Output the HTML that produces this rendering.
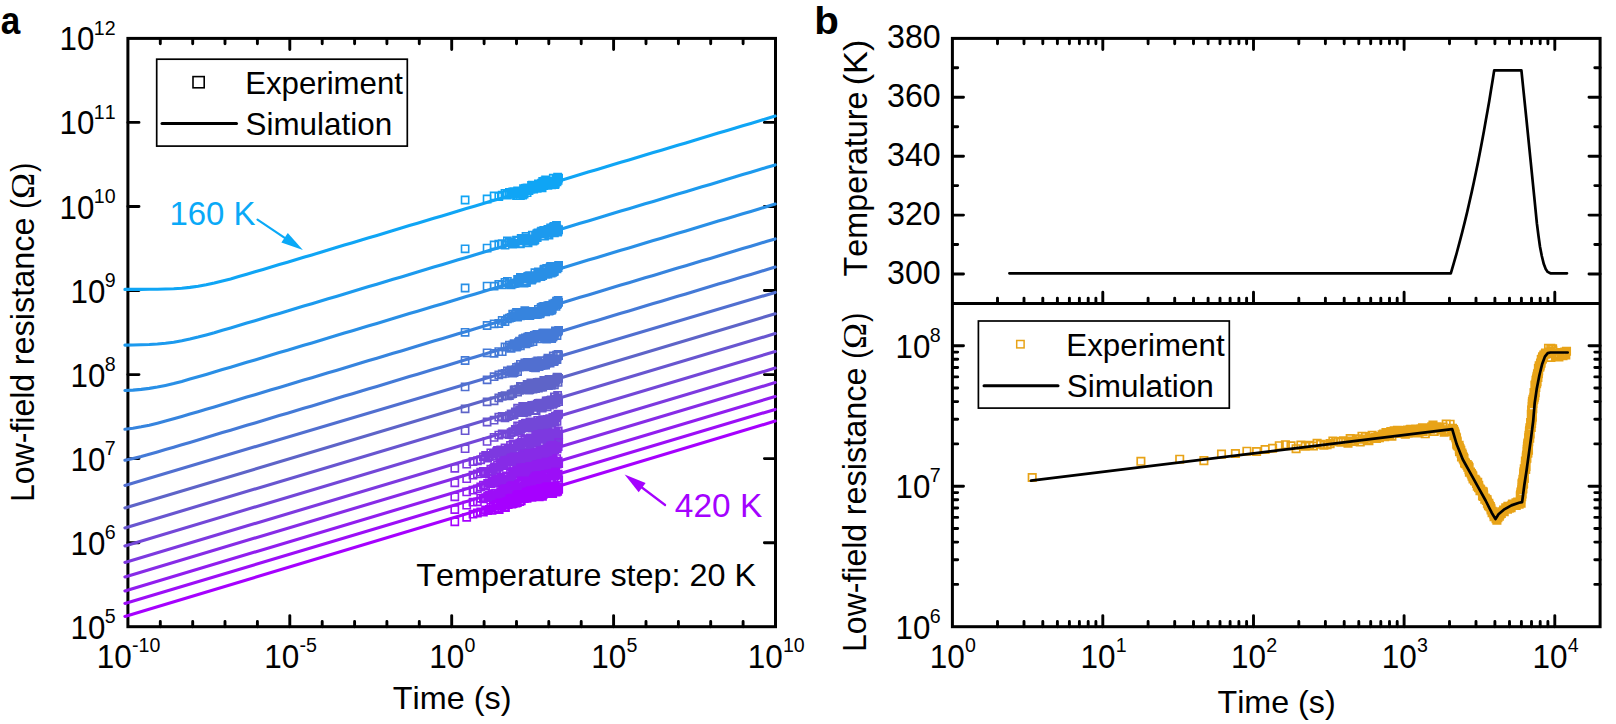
<!DOCTYPE html>
<html lang="en"><head><meta charset="utf-8"><title>Figure</title>
<style>html,body{margin:0;padding:0;background:#fff}svg{display:block}</style></head>
<body><svg width="1616" height="724" viewBox="0 0 1616 724">
<rect width="1616" height="724" fill="#fff"/>
<g id="panel-a">
<rect x="127.9" y="38.4" width="647.6" height="588.3" fill="none" stroke="#000" stroke-width="3"/>
<path d="M160.3 38.4v5.3M160.3 626.7v-5.3M192.7 38.4v5.3M192.7 626.7v-5.3M225 38.4v5.3M225 626.7v-5.3M257.4 38.4v5.3M257.4 626.7v-5.3M289.8 38.4v11.1M289.8 626.7v-11.1M322.2 38.4v5.3M322.2 626.7v-5.3M354.6 38.4v5.3M354.6 626.7v-5.3M386.9 38.4v5.3M386.9 626.7v-5.3M419.3 38.4v5.3M419.3 626.7v-5.3M451.7 38.4v11.1M451.7 626.7v-11.1M484.1 38.4v5.3M484.1 626.7v-5.3M516.5 38.4v5.3M516.5 626.7v-5.3M548.8 38.4v5.3M548.8 626.7v-5.3M581.2 38.4v5.3M581.2 626.7v-5.3M613.6 38.4v11.1M613.6 626.7v-11.1M646 38.4v5.3M646 626.7v-5.3M678.4 38.4v5.3M678.4 626.7v-5.3M710.7 38.4v5.3M710.7 626.7v-5.3M743.1 38.4v5.3M743.1 626.7v-5.3M127.9 542.7h11.1M775.5 542.7h-11.1M127.9 458.6h11.1M775.5 458.6h-11.1M127.9 374.6h11.1M775.5 374.6h-11.1M127.9 290.5h11.1M775.5 290.5h-11.1M127.9 206.5h11.1M775.5 206.5h-11.1M127.9 122.4h11.1M775.5 122.4h-11.1" stroke="#000" stroke-width="2.9" stroke-linecap="round" fill="none"/>
<g fill="none" stroke-width="3.1" stroke-linecap="round">
<path d="M124.9 289.4 L133 289.4 L141.2 289.4 L149.3 289.3 L157.4 289.2 L165.5 289 L173.7 288.7 L181.8 288.2 L189.9 287.4 L198.1 286.3 L206.2 284.8 L214.3 283 L222.4 281 L230.6 278.9 L238.7 276.6 L246.8 274.2 L255 271.8 L263.1 269.4 L271.2 267 L279.3 264.6 L287.5 262.2 L295.6 259.7 L303.7 257.3 L311.9 254.9 L320 252.4 L328.1 250 L336.2 247.6 L344.4 245.1 L352.5 242.7 L360.6 240.3 L368.8 237.8 L376.9 235.4 L385 232.9 L393.1 230.5 L401.3 228.1 L409.4 225.6 L417.5 223.2 L425.7 220.8 L433.8 218.3 L441.9 215.9 L450.1 213.5 L458.2 211 L466.3 208.6 L474.4 206.2 L482.6 203.7 L490.7 201.3 L498.8 198.9 L507 196.4 L515.1 194 L523.2 191.6 L531.3 189.1 L539.5 186.7 L547.6 184.3 L555.7 181.8 L563.9 179.4 L572 177 L580.1 174.5 L588.2 172.1 L596.4 169.7 L604.5 167.2 L612.6 164.8 L620.8 162.3 L628.9 159.9 L637 157.5 L645.1 155 L653.3 152.6 L661.4 150.2 L669.5 147.7 L677.7 145.3 L685.8 142.9 L693.9 140.4 L702 138 L710.2 135.6 L718.3 133.1 L726.4 130.7 L734.6 128.3 L742.7 125.8 L750.8 123.4 L758.9 121 L767.1 118.5 L775.2 116.1" stroke="#0fa5f5"/>
<path d="M124.9 345.1 L133 345 L141.2 344.8 L149.3 344.5 L157.4 344 L165.5 343.3 L173.7 342.2 L181.8 340.8 L189.9 339.1 L198.1 337.1 L206.2 334.9 L214.3 332.7 L222.4 330.3 L230.6 327.9 L238.7 325.5 L246.8 323.1 L255 320.7 L263.1 318.3 L271.2 315.8 L279.3 313.4 L287.5 311 L295.6 308.5 L303.7 306.1 L311.9 303.7 L320 301.2 L328.1 298.8 L336.2 296.4 L344.4 293.9 L352.5 291.5 L360.6 289.1 L368.8 286.6 L376.9 284.2 L385 281.7 L393.1 279.3 L401.3 276.9 L409.4 274.4 L417.5 272 L425.7 269.6 L433.8 267.1 L441.9 264.7 L450.1 262.3 L458.2 259.8 L466.3 257.4 L474.4 255 L482.6 252.5 L490.7 250.1 L498.8 247.7 L507 245.2 L515.1 242.8 L523.2 240.4 L531.3 237.9 L539.5 235.5 L547.6 233.1 L555.7 230.6 L563.9 228.2 L572 225.8 L580.1 223.3 L588.2 220.9 L596.4 218.5 L604.5 216 L612.6 213.6 L620.8 211.1 L628.9 208.7 L637 206.3 L645.1 203.8 L653.3 201.4 L661.4 199 L669.5 196.5 L677.7 194.1 L685.8 191.7 L693.9 189.2 L702 186.8 L710.2 184.4 L718.3 181.9 L726.4 179.5 L734.6 177.1 L742.7 174.6 L750.8 172.2 L758.9 169.8 L767.1 167.3 L775.2 164.9" stroke="#1c9aee"/>
<path d="M124.9 390.5 L133 390.1 L141.2 389.4 L149.3 388.4 L157.4 387.1 L165.5 385.4 L173.7 383.5 L181.8 381.4 L189.9 379.1 L198.1 376.8 L206.2 374.4 L214.3 372 L222.4 369.6 L230.6 367.2 L238.7 364.8 L246.8 362.3 L255 359.9 L263.1 357.5 L271.2 355 L279.3 352.6 L287.5 350.2 L295.6 347.7 L303.7 345.3 L311.9 342.9 L320 340.4 L328.1 338 L336.2 335.6 L344.4 333.1 L352.5 330.7 L360.6 328.3 L368.8 325.8 L376.9 323.4 L385 320.9 L393.1 318.5 L401.3 316.1 L409.4 313.6 L417.5 311.2 L425.7 308.8 L433.8 306.3 L441.9 303.9 L450.1 301.5 L458.2 299 L466.3 296.6 L474.4 294.2 L482.6 291.7 L490.7 289.3 L498.8 286.9 L507 284.4 L515.1 282 L523.2 279.6 L531.3 277.1 L539.5 274.7 L547.6 272.3 L555.7 269.8 L563.9 267.4 L572 265 L580.1 262.5 L588.2 260.1 L596.4 257.7 L604.5 255.2 L612.6 252.8 L620.8 250.3 L628.9 247.9 L637 245.5 L645.1 243 L653.3 240.6 L661.4 238.2 L669.5 235.7 L677.7 233.3 L685.8 230.9 L693.9 228.4 L702 226 L710.2 223.6 L718.3 221.1 L726.4 218.7 L734.6 216.3 L742.7 213.8 L750.8 211.4 L758.9 209 L767.1 206.5 L775.2 204.1" stroke="#298fe6"/>
<path d="M124.9 429.2 L133 428.2 L141.2 426.8 L149.3 425.2 L157.4 423.2 L165.5 421.1 L173.7 418.8 L181.8 416.5 L189.9 414.1 L198.1 411.7 L206.2 409.3 L214.3 406.9 L222.4 404.4 L230.6 402 L238.7 399.6 L246.8 397.1 L255 394.7 L263.1 392.3 L271.2 389.8 L279.3 387.4 L287.5 385 L295.6 382.5 L303.7 380.1 L311.9 377.7 L320 375.2 L328.1 372.8 L336.2 370.4 L344.4 367.9 L352.5 365.5 L360.6 363.1 L368.8 360.6 L376.9 358.2 L385 355.7 L393.1 353.3 L401.3 350.9 L409.4 348.4 L417.5 346 L425.7 343.6 L433.8 341.1 L441.9 338.7 L450.1 336.3 L458.2 333.8 L466.3 331.4 L474.4 329 L482.6 326.5 L490.7 324.1 L498.8 321.7 L507 319.2 L515.1 316.8 L523.2 314.4 L531.3 311.9 L539.5 309.5 L547.6 307.1 L555.7 304.6 L563.9 302.2 L572 299.8 L580.1 297.3 L588.2 294.9 L596.4 292.5 L604.5 290 L612.6 287.6 L620.8 285.1 L628.9 282.7 L637 280.3 L645.1 277.8 L653.3 275.4 L661.4 273 L669.5 270.5 L677.7 268.1 L685.8 265.7 L693.9 263.2 L702 260.8 L710.2 258.4 L718.3 255.9 L726.4 253.5 L734.6 251.1 L742.7 248.6 L750.8 246.2 L758.9 243.8 L767.1 241.3 L775.2 238.9" stroke="#3684de"/>
<path d="M124.9 460.2 L133 458.4 L141.2 456.4 L149.3 454.2 L157.4 451.9 L165.5 449.6 L173.7 447.2 L181.8 444.8 L189.9 442.4 L198.1 439.9 L206.2 437.5 L214.3 435.1 L222.4 432.6 L230.6 430.2 L238.7 427.8 L246.8 425.3 L255 422.9 L263.1 420.5 L271.2 418 L279.3 415.6 L287.5 413.2 L295.6 410.7 L303.7 408.3 L311.9 405.9 L320 403.4 L328.1 401 L336.2 398.6 L344.4 396.1 L352.5 393.7 L360.6 391.3 L368.8 388.8 L376.9 386.4 L385 383.9 L393.1 381.5 L401.3 379.1 L409.4 376.6 L417.5 374.2 L425.7 371.8 L433.8 369.3 L441.9 366.9 L450.1 364.5 L458.2 362 L466.3 359.6 L474.4 357.2 L482.6 354.7 L490.7 352.3 L498.8 349.9 L507 347.4 L515.1 345 L523.2 342.6 L531.3 340.1 L539.5 337.7 L547.6 335.3 L555.7 332.8 L563.9 330.4 L572 328 L580.1 325.5 L588.2 323.1 L596.4 320.7 L604.5 318.2 L612.6 315.8 L620.8 313.3 L628.9 310.9 L637 308.5 L645.1 306 L653.3 303.6 L661.4 301.2 L669.5 298.7 L677.7 296.3 L685.8 293.9 L693.9 291.4 L702 289 L710.2 286.6 L718.3 284.1 L726.4 281.7 L734.6 279.3 L742.7 276.8 L750.8 274.4 L758.9 272 L767.1 269.5 L775.2 267.1" stroke="#447ad7"/>
<path d="M124.9 485.4 L775.2 292.4" stroke="#516fd0"/>
<path d="M124.9 507.9 L775.2 313.8" stroke="#5e64c8"/>
<path d="M124.9 527.9 L775.2 333.6" stroke="#6856d0"/>
<path d="M124.9 545.9 L775.2 351.5" stroke="#7347d8"/>
<path d="M124.9 562.4 L775.2 368.1" stroke="#7d39e0"/>
<path d="M124.9 576.9 L775.2 382.6" stroke="#872be7"/>
<path d="M124.9 590.9 L775.2 396.5" stroke="#911def"/>
<path d="M124.9 603.4 L775.2 409.4" stroke="#9c0ef7"/>
<path d="M124.9 616.4 L775.2 421.1" stroke="#a600ff"/>
</g>
<g fill="none" stroke-width="1.6">
<path d="M461.5 196.4h7.2v7.2h-7.2zM483.5 195.4h7.2v7.2h-7.2zM490.5 192.4h7.2v7.2h-7.2zM495.2 193h7.2v7.2h-7.2zM498.6 191.6h7.2v7.2h-7.2zM501.4 189.7h7.2v7.2h-7.2zM503.8 191.4h7.2v7.2h-7.2zM505.8 188.7h7.2v7.2h-7.2zM507.5 190.5h7.2v7.2h-7.2zM509.1 188.2h7.2v7.2h-7.2zM510.5 188h7.2v7.2h-7.2zM511.7 189.7h7.2v7.2h-7.2zM512.9 191.9h7.2v7.2h-7.2zM514 187.3h7.2v7.2h-7.2zM515 187.7h7.2v7.2h-7.2zM515.9 190.1h7.2v7.2h-7.2zM516.8 192h7.2v7.2h-7.2zM517.6 189.3h7.2v7.2h-7.2zM518.4 187.9h7.2v7.2h-7.2zM519.1 191.6h7.2v7.2h-7.2zM519.9 185h7.2v7.2h-7.2zM520.5 190.5h7.2v7.2h-7.2zM521.2 186.2h7.2v7.2h-7.2zM521.8 184.9h7.2v7.2h-7.2zM522.4 184.5h7.2v7.2h-7.2zM522.9 185.7h7.2v7.2h-7.2zM523.5 189.1h7.2v7.2h-7.2zM524 184.4h7.2v7.2h-7.2zM524.5 187h7.2v7.2h-7.2zM525.4 187.1h7.2v7.2h-7.2zM526.3 184.8h7.2v7.2h-7.2zM527.2 185.7h7.2v7.2h-7.2zM527.9 181.9h7.2v7.2h-7.2zM528.7 181.5h7.2v7.2h-7.2zM529.4 182.3h7.2v7.2h-7.2zM530.1 185.4h7.2v7.2h-7.2zM530.7 183.3h7.2v7.2h-7.2zM531.3 182.3h7.2v7.2h-7.2zM531.9 184h7.2v7.2h-7.2zM532.5 182.8h7.2v7.2h-7.2zM533.1 181.5h7.2v7.2h-7.2zM533.6 184.8h7.2v7.2h-7.2zM534.1 183.9h7.2v7.2h-7.2zM534.8 180.3h7.2v7.2h-7.2zM535.5 182.5h7.2v7.2h-7.2zM536.2 181.8h7.2v7.2h-7.2zM536.8 184.1h7.2v7.2h-7.2zM537.4 182.8h7.2v7.2h-7.2zM538 179.5h7.2v7.2h-7.2zM538.5 184.2h7.2v7.2h-7.2zM539.1 177.9h7.2v7.2h-7.2zM539.6 179.8h7.2v7.2h-7.2zM540.2 182.1h7.2v7.2h-7.2zM540.9 177.5h7.2v7.2h-7.2zM541.5 179.7h7.2v7.2h-7.2zM542 176.3h7.2v7.2h-7.2zM542.6 180.7h7.2v7.2h-7.2zM543.1 181.2h7.2v7.2h-7.2zM543.6 179.7h7.2v7.2h-7.2zM544.3 181.7h7.2v7.2h-7.2zM544.8 177.5h7.2v7.2h-7.2zM545.4 180.1h7.2v7.2h-7.2zM546 179.3h7.2v7.2h-7.2zM546.5 179h7.2v7.2h-7.2zM547 178h7.2v7.2h-7.2zM547.6 180.6h7.2v7.2h-7.2zM548.1 181.3h7.2v7.2h-7.2zM548.7 177.8h7.2v7.2h-7.2zM549.2 179h7.2v7.2h-7.2zM549.7 174.6h7.2v7.2h-7.2zM550.3 179.1h7.2v7.2h-7.2zM550.8 178.6h7.2v7.2h-7.2zM551.3 181h7.2v7.2h-7.2zM551.8 179.7h7.2v7.2h-7.2zM552.4 175.7h7.2v7.2h-7.2zM552.9 176.4h7.2v7.2h-7.2zM553.4 178.3h7.2v7.2h-7.2zM554 173.6h7.2v7.2h-7.2zM554.5 176.7h7.2v7.2h-7.2zM555 174.5h7.2v7.2h-7.2z" stroke="#0fa5f5"/>
<path d="M461.5 245.2h7.2v7.2h-7.2zM483.5 244.5h7.2v7.2h-7.2zM490.5 241.4h7.2v7.2h-7.2zM495.2 240.5h7.2v7.2h-7.2zM498.6 240.1h7.2v7.2h-7.2zM501.4 241.6h7.2v7.2h-7.2zM503.8 237.3h7.2v7.2h-7.2zM505.8 238.7h7.2v7.2h-7.2zM507.5 238.9h7.2v7.2h-7.2zM509.1 240.6h7.2v7.2h-7.2zM510.5 240h7.2v7.2h-7.2zM511.7 240.2h7.2v7.2h-7.2zM512.9 236.5h7.2v7.2h-7.2zM514 237.2h7.2v7.2h-7.2zM515 236.7h7.2v7.2h-7.2zM515.9 239.9h7.2v7.2h-7.2zM516.8 240.3h7.2v7.2h-7.2zM517.6 234.9h7.2v7.2h-7.2zM518.4 234.9h7.2v7.2h-7.2zM519.1 235.1h7.2v7.2h-7.2zM519.9 235h7.2v7.2h-7.2zM520.5 236.7h7.2v7.2h-7.2zM521.2 237.3h7.2v7.2h-7.2zM521.8 234.8h7.2v7.2h-7.2zM522.4 232.9h7.2v7.2h-7.2zM522.9 235.7h7.2v7.2h-7.2zM523.5 235.2h7.2v7.2h-7.2zM524 236.5h7.2v7.2h-7.2zM524.5 239.2h7.2v7.2h-7.2zM525.4 237.1h7.2v7.2h-7.2zM526.3 235.6h7.2v7.2h-7.2zM527.2 236h7.2v7.2h-7.2zM527.9 236.2h7.2v7.2h-7.2zM528.7 231.5h7.2v7.2h-7.2zM529.4 237.4h7.2v7.2h-7.2zM530.1 236.3h7.2v7.2h-7.2zM530.7 236.7h7.2v7.2h-7.2zM531.3 236h7.2v7.2h-7.2zM531.9 232.8h7.2v7.2h-7.2zM532.5 232.7h7.2v7.2h-7.2zM533.1 230.3h7.2v7.2h-7.2zM533.6 234h7.2v7.2h-7.2zM534.1 229.6h7.2v7.2h-7.2zM534.8 229.4h7.2v7.2h-7.2zM535.5 230.1h7.2v7.2h-7.2zM536.2 229.5h7.2v7.2h-7.2zM536.8 230.5h7.2v7.2h-7.2zM537.4 228.2h7.2v7.2h-7.2zM538 227.6h7.2v7.2h-7.2zM538.5 228.4h7.2v7.2h-7.2zM539.1 227.9h7.2v7.2h-7.2zM539.6 229.5h7.2v7.2h-7.2zM540.2 226.8h7.2v7.2h-7.2zM540.9 232.6h7.2v7.2h-7.2zM541.5 230.5h7.2v7.2h-7.2zM542 226.9h7.2v7.2h-7.2zM542.6 227.4h7.2v7.2h-7.2zM543.1 227.9h7.2v7.2h-7.2zM543.6 227.8h7.2v7.2h-7.2zM544.3 225.8h7.2v7.2h-7.2zM544.8 230.8h7.2v7.2h-7.2zM545.4 231.6h7.2v7.2h-7.2zM546 227.6h7.2v7.2h-7.2zM546.5 227.5h7.2v7.2h-7.2zM547 224.4h7.2v7.2h-7.2zM547.6 224.3h7.2v7.2h-7.2zM548.1 225.8h7.2v7.2h-7.2zM548.7 225.1h7.2v7.2h-7.2zM549.2 228.9h7.2v7.2h-7.2zM549.7 223.9h7.2v7.2h-7.2zM550.3 222.7h7.2v7.2h-7.2zM550.8 229.2h7.2v7.2h-7.2zM551.3 226h7.2v7.2h-7.2zM551.8 223.1h7.2v7.2h-7.2zM552.4 225.8h7.2v7.2h-7.2zM552.9 221.9h7.2v7.2h-7.2zM553.4 225.3h7.2v7.2h-7.2zM554 228.4h7.2v7.2h-7.2zM554.5 227.4h7.2v7.2h-7.2zM555 226.1h7.2v7.2h-7.2z" stroke="#1c9aee"/>
<path d="M461.5 284.4h7.2v7.2h-7.2zM483.5 282.5h7.2v7.2h-7.2zM490.5 282.6h7.2v7.2h-7.2zM495.2 280.8h7.2v7.2h-7.2zM498.6 281.2h7.2v7.2h-7.2zM501.4 278.7h7.2v7.2h-7.2zM503.8 277.8h7.2v7.2h-7.2zM505.8 280.4h7.2v7.2h-7.2zM507.5 281.2h7.2v7.2h-7.2zM509.1 280.3h7.2v7.2h-7.2zM510.5 279.9h7.2v7.2h-7.2zM511.7 279.8h7.2v7.2h-7.2zM512.9 279.2h7.2v7.2h-7.2zM514 275.9h7.2v7.2h-7.2zM515 277.5h7.2v7.2h-7.2zM515.9 276.3h7.2v7.2h-7.2zM516.8 273.9h7.2v7.2h-7.2zM517.6 273.7h7.2v7.2h-7.2zM518.4 275.2h7.2v7.2h-7.2zM519.1 274.8h7.2v7.2h-7.2zM519.9 277.7h7.2v7.2h-7.2zM520.5 279.4h7.2v7.2h-7.2zM521.2 275.6h7.2v7.2h-7.2zM521.8 278.9h7.2v7.2h-7.2zM522.4 279.1h7.2v7.2h-7.2zM522.9 278.7h7.2v7.2h-7.2zM523.5 274.2h7.2v7.2h-7.2zM524 273h7.2v7.2h-7.2zM524.5 272.9h7.2v7.2h-7.2zM525.4 272.3h7.2v7.2h-7.2zM526.3 272h7.2v7.2h-7.2zM527.2 274.7h7.2v7.2h-7.2zM527.9 276.4h7.2v7.2h-7.2zM528.7 275.6h7.2v7.2h-7.2zM529.4 272.8h7.2v7.2h-7.2zM530.1 273.7h7.2v7.2h-7.2zM530.7 274.5h7.2v7.2h-7.2zM531.3 269.1h7.2v7.2h-7.2zM531.9 273h7.2v7.2h-7.2zM532.5 274.5h7.2v7.2h-7.2zM533.1 273.4h7.2v7.2h-7.2zM533.6 272.9h7.2v7.2h-7.2zM534.1 270.8h7.2v7.2h-7.2zM534.8 268.3h7.2v7.2h-7.2zM535.5 272.4h7.2v7.2h-7.2zM536.2 268.8h7.2v7.2h-7.2zM536.8 272h7.2v7.2h-7.2zM537.4 272.9h7.2v7.2h-7.2zM538 268.6h7.2v7.2h-7.2zM538.5 268.4h7.2v7.2h-7.2zM539.1 272.1h7.2v7.2h-7.2zM539.6 270.3h7.2v7.2h-7.2zM540.2 266.1h7.2v7.2h-7.2zM540.9 265.5h7.2v7.2h-7.2zM541.5 265.5h7.2v7.2h-7.2zM542 270.7h7.2v7.2h-7.2zM542.6 269.8h7.2v7.2h-7.2zM543.1 264.9h7.2v7.2h-7.2zM543.6 269.6h7.2v7.2h-7.2zM544.3 270.5h7.2v7.2h-7.2zM544.8 268h7.2v7.2h-7.2zM545.4 265.6h7.2v7.2h-7.2zM546 266.9h7.2v7.2h-7.2zM546.5 263.7h7.2v7.2h-7.2zM547 262.7h7.2v7.2h-7.2zM547.6 269.4h7.2v7.2h-7.2zM548.1 267h7.2v7.2h-7.2zM548.7 266h7.2v7.2h-7.2zM549.2 268.8h7.2v7.2h-7.2zM549.7 265h7.2v7.2h-7.2zM550.3 268.1h7.2v7.2h-7.2zM550.8 267.6h7.2v7.2h-7.2zM551.3 263.1h7.2v7.2h-7.2zM551.8 263.2h7.2v7.2h-7.2zM552.4 263.4h7.2v7.2h-7.2zM552.9 262.9h7.2v7.2h-7.2zM553.4 265.3h7.2v7.2h-7.2zM554 262.9h7.2v7.2h-7.2zM554.5 263.9h7.2v7.2h-7.2zM555 261.8h7.2v7.2h-7.2z" stroke="#298fe6"/>
<path d="M461.5 328.7h7.2v7.2h-7.2zM483.5 321.9h7.2v7.2h-7.2zM490.5 320.2h7.2v7.2h-7.2zM495.2 319.9h7.2v7.2h-7.2zM498.6 316.8h7.2v7.2h-7.2zM501.4 318h7.2v7.2h-7.2zM503.8 315.2h7.2v7.2h-7.2zM505.8 314.6h7.2v7.2h-7.2zM507.5 313.9h7.2v7.2h-7.2zM509.1 310.5h7.2v7.2h-7.2zM510.5 312.4h7.2v7.2h-7.2zM511.7 310.4h7.2v7.2h-7.2zM512.9 308.9h7.2v7.2h-7.2zM514 313.4h7.2v7.2h-7.2zM515 309.2h7.2v7.2h-7.2zM515.9 310.9h7.2v7.2h-7.2zM516.8 312.3h7.2v7.2h-7.2zM517.6 311h7.2v7.2h-7.2zM518.4 309.2h7.2v7.2h-7.2zM519.1 310.4h7.2v7.2h-7.2zM519.9 310.5h7.2v7.2h-7.2zM520.5 312h7.2v7.2h-7.2zM521.2 307h7.2v7.2h-7.2zM521.8 310.2h7.2v7.2h-7.2zM522.4 307.8h7.2v7.2h-7.2zM522.9 307.9h7.2v7.2h-7.2zM523.5 311.4h7.2v7.2h-7.2zM524 309.4h7.2v7.2h-7.2zM524.5 309.7h7.2v7.2h-7.2zM525.4 311h7.2v7.2h-7.2zM526.3 312h7.2v7.2h-7.2zM527.2 308.4h7.2v7.2h-7.2zM527.9 309.5h7.2v7.2h-7.2zM528.7 308.6h7.2v7.2h-7.2zM529.4 308.6h7.2v7.2h-7.2zM530.1 309.8h7.2v7.2h-7.2zM530.7 307.9h7.2v7.2h-7.2zM531.3 308.4h7.2v7.2h-7.2zM531.9 307.9h7.2v7.2h-7.2zM532.5 311.1h7.2v7.2h-7.2zM533.1 309.2h7.2v7.2h-7.2zM533.6 310.4h7.2v7.2h-7.2zM534.1 310.8h7.2v7.2h-7.2zM534.8 305.7h7.2v7.2h-7.2zM535.5 307.7h7.2v7.2h-7.2zM536.2 310.3h7.2v7.2h-7.2zM536.8 309.4h7.2v7.2h-7.2zM537.4 304.2h7.2v7.2h-7.2zM538 303.9h7.2v7.2h-7.2zM538.5 306.1h7.2v7.2h-7.2zM539.1 303.2h7.2v7.2h-7.2zM539.6 304.3h7.2v7.2h-7.2zM540.2 302.9h7.2v7.2h-7.2zM540.9 307h7.2v7.2h-7.2zM541.5 307.6h7.2v7.2h-7.2zM542 308.2h7.2v7.2h-7.2zM542.6 302.7h7.2v7.2h-7.2zM543.1 306.6h7.2v7.2h-7.2zM543.6 306h7.2v7.2h-7.2zM544.3 302h7.2v7.2h-7.2zM544.8 307.1h7.2v7.2h-7.2zM545.4 307.5h7.2v7.2h-7.2zM546 301.9h7.2v7.2h-7.2zM546.5 307h7.2v7.2h-7.2zM547 302.8h7.2v7.2h-7.2zM547.6 303.2h7.2v7.2h-7.2zM548.1 306.6h7.2v7.2h-7.2zM548.7 305.2h7.2v7.2h-7.2zM549.2 300.2h7.2v7.2h-7.2zM549.7 301.9h7.2v7.2h-7.2zM550.3 302.3h7.2v7.2h-7.2zM550.8 300.8h7.2v7.2h-7.2zM551.3 299.5h7.2v7.2h-7.2zM551.8 300.2h7.2v7.2h-7.2zM552.4 302.8h7.2v7.2h-7.2zM552.9 297.5h7.2v7.2h-7.2zM553.4 301.1h7.2v7.2h-7.2zM554 300.1h7.2v7.2h-7.2zM554.5 296.8h7.2v7.2h-7.2zM555 298.8h7.2v7.2h-7.2z" stroke="#3684de"/>
<path d="M461.5 356.9h7.2v7.2h-7.2zM483.5 349.2h7.2v7.2h-7.2zM490.5 349.7h7.2v7.2h-7.2zM495.2 348h7.2v7.2h-7.2zM498.6 348h7.2v7.2h-7.2zM501.4 343.4h7.2v7.2h-7.2zM503.8 343.4h7.2v7.2h-7.2zM505.8 341.5h7.2v7.2h-7.2zM507.5 344.7h7.2v7.2h-7.2zM509.1 341.4h7.2v7.2h-7.2zM510.5 340h7.2v7.2h-7.2zM511.7 341.1h7.2v7.2h-7.2zM512.9 343.6h7.2v7.2h-7.2zM514 342.6h7.2v7.2h-7.2zM515 338.7h7.2v7.2h-7.2zM515.9 337.5h7.2v7.2h-7.2zM516.8 342.2h7.2v7.2h-7.2zM517.6 339.6h7.2v7.2h-7.2zM518.4 340.1h7.2v7.2h-7.2zM519.1 335.6h7.2v7.2h-7.2zM519.9 335h7.2v7.2h-7.2zM520.5 339.2h7.2v7.2h-7.2zM521.2 337.1h7.2v7.2h-7.2zM521.8 334.3h7.2v7.2h-7.2zM522.4 340.3h7.2v7.2h-7.2zM522.9 337.9h7.2v7.2h-7.2zM523.5 338.9h7.2v7.2h-7.2zM524 333.5h7.2v7.2h-7.2zM524.5 338.9h7.2v7.2h-7.2zM525.4 332.9h7.2v7.2h-7.2zM526.3 338.4h7.2v7.2h-7.2zM527.2 335.2h7.2v7.2h-7.2zM527.9 334.1h7.2v7.2h-7.2zM528.7 335.5h7.2v7.2h-7.2zM529.4 338h7.2v7.2h-7.2zM530.1 333h7.2v7.2h-7.2zM530.7 331.9h7.2v7.2h-7.2zM531.3 334.6h7.2v7.2h-7.2zM531.9 332.4h7.2v7.2h-7.2zM532.5 331.3h7.2v7.2h-7.2zM533.1 331.6h7.2v7.2h-7.2zM533.6 330.7h7.2v7.2h-7.2zM534.1 331.7h7.2v7.2h-7.2zM534.8 332.3h7.2v7.2h-7.2zM535.5 332.2h7.2v7.2h-7.2zM536.2 335.3h7.2v7.2h-7.2zM536.8 331.8h7.2v7.2h-7.2zM537.4 333.2h7.2v7.2h-7.2zM538 330.8h7.2v7.2h-7.2zM538.5 331.9h7.2v7.2h-7.2zM539.1 329.5h7.2v7.2h-7.2zM539.6 331.1h7.2v7.2h-7.2zM540.2 329.3h7.2v7.2h-7.2zM540.9 334.3h7.2v7.2h-7.2zM541.5 332.9h7.2v7.2h-7.2zM542 330.2h7.2v7.2h-7.2zM542.6 332.2h7.2v7.2h-7.2zM543.1 335.4h7.2v7.2h-7.2zM543.6 329.4h7.2v7.2h-7.2zM544.3 334.4h7.2v7.2h-7.2zM544.8 331.5h7.2v7.2h-7.2zM545.4 331.9h7.2v7.2h-7.2zM546 334.2h7.2v7.2h-7.2zM546.5 331h7.2v7.2h-7.2zM547 331.7h7.2v7.2h-7.2zM547.6 332.9h7.2v7.2h-7.2zM548.1 334.9h7.2v7.2h-7.2zM548.7 330.2h7.2v7.2h-7.2zM549.2 333.6h7.2v7.2h-7.2zM549.7 332.6h7.2v7.2h-7.2zM550.3 331.9h7.2v7.2h-7.2zM550.8 330.2h7.2v7.2h-7.2zM551.3 329.6h7.2v7.2h-7.2zM551.8 327.4h7.2v7.2h-7.2zM552.4 327.8h7.2v7.2h-7.2zM552.9 327.2h7.2v7.2h-7.2zM553.4 331.9h7.2v7.2h-7.2zM554 328.3h7.2v7.2h-7.2zM554.5 327.4h7.2v7.2h-7.2zM555 326.7h7.2v7.2h-7.2z" stroke="#447ad7"/>
<path d="M461.5 383.3h7.2v7.2h-7.2zM483.5 376.2h7.2v7.2h-7.2zM490.5 373.1h7.2v7.2h-7.2zM495.2 371.3h7.2v7.2h-7.2zM498.6 370.2h7.2v7.2h-7.2zM501.4 369.8h7.2v7.2h-7.2zM503.8 367.4h7.2v7.2h-7.2zM505.8 367.9h7.2v7.2h-7.2zM507.5 366.2h7.2v7.2h-7.2zM509.1 369.4h7.2v7.2h-7.2zM510.5 369h7.2v7.2h-7.2zM511.7 366.1h7.2v7.2h-7.2zM512.9 363.8h7.2v7.2h-7.2zM514 367.9h7.2v7.2h-7.2zM515 363.4h7.2v7.2h-7.2zM515.9 363.4h7.2v7.2h-7.2zM516.8 360.7h7.2v7.2h-7.2zM517.6 363h7.2v7.2h-7.2zM518.4 363.3h7.2v7.2h-7.2zM519.1 363.3h7.2v7.2h-7.2zM519.9 361h7.2v7.2h-7.2zM520.5 363h7.2v7.2h-7.2zM521.2 359.2h7.2v7.2h-7.2zM521.8 360.9h7.2v7.2h-7.2zM522.4 359.6h7.2v7.2h-7.2zM522.9 361.7h7.2v7.2h-7.2zM523.5 359h7.2v7.2h-7.2zM524 358.8h7.2v7.2h-7.2zM524.5 360.7h7.2v7.2h-7.2zM525.4 360h7.2v7.2h-7.2zM526.3 362.4h7.2v7.2h-7.2zM527.2 361.8h7.2v7.2h-7.2zM527.9 363.3h7.2v7.2h-7.2zM528.7 362.5h7.2v7.2h-7.2zM529.4 362.8h7.2v7.2h-7.2zM530.1 363.9h7.2v7.2h-7.2zM530.7 360.2h7.2v7.2h-7.2zM531.3 359.7h7.2v7.2h-7.2zM531.9 364.3h7.2v7.2h-7.2zM532.5 358.2h7.2v7.2h-7.2zM533.1 362.2h7.2v7.2h-7.2zM533.6 361.6h7.2v7.2h-7.2zM534.1 357.2h7.2v7.2h-7.2zM534.8 362.7h7.2v7.2h-7.2zM535.5 363h7.2v7.2h-7.2zM536.2 361h7.2v7.2h-7.2zM536.8 361.6h7.2v7.2h-7.2zM537.4 362h7.2v7.2h-7.2zM538 357.1h7.2v7.2h-7.2zM538.5 359.7h7.2v7.2h-7.2zM539.1 359.4h7.2v7.2h-7.2zM539.6 361.7h7.2v7.2h-7.2zM540.2 361.3h7.2v7.2h-7.2zM540.9 361.3h7.2v7.2h-7.2zM541.5 359.4h7.2v7.2h-7.2zM542 361.5h7.2v7.2h-7.2zM542.6 359.8h7.2v7.2h-7.2zM543.1 359.7h7.2v7.2h-7.2zM543.6 356.2h7.2v7.2h-7.2zM544.3 354.6h7.2v7.2h-7.2zM544.8 355.1h7.2v7.2h-7.2zM545.4 356.6h7.2v7.2h-7.2zM546 354.5h7.2v7.2h-7.2zM546.5 359.6h7.2v7.2h-7.2zM547 357.4h7.2v7.2h-7.2zM547.6 357.7h7.2v7.2h-7.2zM548.1 357.5h7.2v7.2h-7.2zM548.7 357.7h7.2v7.2h-7.2zM549.2 356.1h7.2v7.2h-7.2zM549.7 352.4h7.2v7.2h-7.2zM550.3 357.9h7.2v7.2h-7.2zM550.8 357.3h7.2v7.2h-7.2zM551.3 355.4h7.2v7.2h-7.2zM551.8 355.4h7.2v7.2h-7.2zM552.4 356h7.2v7.2h-7.2zM552.9 351.5h7.2v7.2h-7.2zM553.4 356.1h7.2v7.2h-7.2zM554 352.4h7.2v7.2h-7.2zM554.5 350.9h7.2v7.2h-7.2zM555 352h7.2v7.2h-7.2z" stroke="#516fd0"/>
<path d="M461.5 405.2h7.2v7.2h-7.2zM483.5 398.2h7.2v7.2h-7.2zM490.5 397.2h7.2v7.2h-7.2zM495.2 394.3h7.2v7.2h-7.2zM498.6 392.7h7.2v7.2h-7.2zM501.4 392.1h7.2v7.2h-7.2zM503.8 392.3h7.2v7.2h-7.2zM505.8 392h7.2v7.2h-7.2zM507.5 390.5h7.2v7.2h-7.2zM509.1 390h7.2v7.2h-7.2zM510.5 386.2h7.2v7.2h-7.2zM511.7 386h7.2v7.2h-7.2zM512.9 386.1h7.2v7.2h-7.2zM514 388.6h7.2v7.2h-7.2zM515 385.5h7.2v7.2h-7.2zM515.9 386.8h7.2v7.2h-7.2zM516.8 382.7h7.2v7.2h-7.2zM517.6 382.7h7.2v7.2h-7.2zM518.4 383.8h7.2v7.2h-7.2zM519.1 386.2h7.2v7.2h-7.2zM519.9 386.1h7.2v7.2h-7.2zM520.5 385.8h7.2v7.2h-7.2zM521.2 382.8h7.2v7.2h-7.2zM521.8 384.2h7.2v7.2h-7.2zM522.4 383.7h7.2v7.2h-7.2zM522.9 383.5h7.2v7.2h-7.2zM523.5 380.9h7.2v7.2h-7.2zM524 386.3h7.2v7.2h-7.2zM524.5 381.2h7.2v7.2h-7.2zM525.4 386.6h7.2v7.2h-7.2zM526.3 386h7.2v7.2h-7.2zM527.2 379.2h7.2v7.2h-7.2zM527.9 382.2h7.2v7.2h-7.2zM528.7 384.7h7.2v7.2h-7.2zM529.4 385.6h7.2v7.2h-7.2zM530.1 381.8h7.2v7.2h-7.2zM530.7 380.3h7.2v7.2h-7.2zM531.3 379.8h7.2v7.2h-7.2zM531.9 385h7.2v7.2h-7.2zM532.5 379.6h7.2v7.2h-7.2zM533.1 382.2h7.2v7.2h-7.2zM533.6 378.9h7.2v7.2h-7.2zM534.1 381.6h7.2v7.2h-7.2zM534.8 384.6h7.2v7.2h-7.2zM535.5 378.5h7.2v7.2h-7.2zM536.2 383.4h7.2v7.2h-7.2zM536.8 381h7.2v7.2h-7.2zM537.4 383.7h7.2v7.2h-7.2zM538 382.2h7.2v7.2h-7.2zM538.5 378.7h7.2v7.2h-7.2zM539.1 383.4h7.2v7.2h-7.2zM539.6 380.4h7.2v7.2h-7.2zM540.2 376.9h7.2v7.2h-7.2zM540.9 376.7h7.2v7.2h-7.2zM541.5 380.1h7.2v7.2h-7.2zM542 379.7h7.2v7.2h-7.2zM542.6 378.5h7.2v7.2h-7.2zM543.1 377.2h7.2v7.2h-7.2zM543.6 378.6h7.2v7.2h-7.2zM544.3 378.2h7.2v7.2h-7.2zM544.8 381.9h7.2v7.2h-7.2zM545.4 375.7h7.2v7.2h-7.2zM546 380.9h7.2v7.2h-7.2zM546.5 381.4h7.2v7.2h-7.2zM547 376.1h7.2v7.2h-7.2zM547.6 381.8h7.2v7.2h-7.2zM548.1 380.1h7.2v7.2h-7.2zM548.7 381.3h7.2v7.2h-7.2zM549.2 376.7h7.2v7.2h-7.2zM549.7 377.2h7.2v7.2h-7.2zM550.3 377.1h7.2v7.2h-7.2zM550.8 381.3h7.2v7.2h-7.2zM551.3 378.2h7.2v7.2h-7.2zM551.8 376.4h7.2v7.2h-7.2zM552.4 376.7h7.2v7.2h-7.2zM552.9 375.4h7.2v7.2h-7.2zM553.4 373.6h7.2v7.2h-7.2zM554 373.7h7.2v7.2h-7.2zM554.5 378.8h7.2v7.2h-7.2zM555 374.7h7.2v7.2h-7.2z" stroke="#5e64c8"/>
<path d="M461.5 427.1h7.2v7.2h-7.2zM483.5 418.4h7.2v7.2h-7.2zM490.5 416.5h7.2v7.2h-7.2zM495.2 413.6h7.2v7.2h-7.2zM498.6 412.8h7.2v7.2h-7.2zM501.4 414.3h7.2v7.2h-7.2zM503.8 413.1h7.2v7.2h-7.2zM505.8 412h7.2v7.2h-7.2zM507.5 410.4h7.2v7.2h-7.2zM509.1 411.4h7.2v7.2h-7.2zM510.5 411.1h7.2v7.2h-7.2zM511.7 408.4h7.2v7.2h-7.2zM512.9 409.1h7.2v7.2h-7.2zM514 404.6h7.2v7.2h-7.2zM515 408.6h7.2v7.2h-7.2zM515.9 406.5h7.2v7.2h-7.2zM516.8 408.3h7.2v7.2h-7.2zM517.6 407.4h7.2v7.2h-7.2zM518.4 404.8h7.2v7.2h-7.2zM519.1 402.9h7.2v7.2h-7.2zM519.9 408.9h7.2v7.2h-7.2zM520.5 403.1h7.2v7.2h-7.2zM521.2 405.4h7.2v7.2h-7.2zM521.8 404.4h7.2v7.2h-7.2zM522.4 403.9h7.2v7.2h-7.2zM522.9 407h7.2v7.2h-7.2zM523.5 408.6h7.2v7.2h-7.2zM524 403.4h7.2v7.2h-7.2zM524.5 406.1h7.2v7.2h-7.2zM525.4 403.4h7.2v7.2h-7.2zM526.3 405.1h7.2v7.2h-7.2zM527.2 403.7h7.2v7.2h-7.2zM527.9 402h7.2v7.2h-7.2zM528.7 401.8h7.2v7.2h-7.2zM529.4 402h7.2v7.2h-7.2zM530.1 406.9h7.2v7.2h-7.2zM530.7 403.8h7.2v7.2h-7.2zM531.3 401.6h7.2v7.2h-7.2zM531.9 406.5h7.2v7.2h-7.2zM532.5 407h7.2v7.2h-7.2zM533.1 402.9h7.2v7.2h-7.2zM533.6 400.6h7.2v7.2h-7.2zM534.1 400.8h7.2v7.2h-7.2zM534.8 399.9h7.2v7.2h-7.2zM535.5 401.5h7.2v7.2h-7.2zM536.2 399.5h7.2v7.2h-7.2zM536.8 400.4h7.2v7.2h-7.2zM537.4 400.4h7.2v7.2h-7.2zM538 402.4h7.2v7.2h-7.2zM538.5 404.5h7.2v7.2h-7.2zM539.1 403.4h7.2v7.2h-7.2zM539.6 400.8h7.2v7.2h-7.2zM540.2 400.6h7.2v7.2h-7.2zM540.9 401.1h7.2v7.2h-7.2zM541.5 399.8h7.2v7.2h-7.2zM542 399.4h7.2v7.2h-7.2zM542.6 397.2h7.2v7.2h-7.2zM543.1 398.5h7.2v7.2h-7.2zM543.6 403.3h7.2v7.2h-7.2zM544.3 397h7.2v7.2h-7.2zM544.8 399.4h7.2v7.2h-7.2zM545.4 400.1h7.2v7.2h-7.2zM546 401.6h7.2v7.2h-7.2zM546.5 396.7h7.2v7.2h-7.2zM547 396.9h7.2v7.2h-7.2zM547.6 396.4h7.2v7.2h-7.2zM548.1 397.3h7.2v7.2h-7.2zM548.7 397.4h7.2v7.2h-7.2zM549.2 400.8h7.2v7.2h-7.2zM549.7 399.8h7.2v7.2h-7.2zM550.3 399.7h7.2v7.2h-7.2zM550.8 393.4h7.2v7.2h-7.2zM551.3 393.2h7.2v7.2h-7.2zM551.8 397.9h7.2v7.2h-7.2zM552.4 398.9h7.2v7.2h-7.2zM552.9 395.7h7.2v7.2h-7.2zM553.4 396.2h7.2v7.2h-7.2zM554 391.8h7.2v7.2h-7.2zM554.5 394.3h7.2v7.2h-7.2zM555 398h7.2v7.2h-7.2z" stroke="#6856d0"/>
<path d="M461.5 445.1h7.2v7.2h-7.2zM483.5 437.8h7.2v7.2h-7.2zM490.5 433.8h7.2v7.2h-7.2zM495.2 431.5h7.2v7.2h-7.2zM498.6 430.2h7.2v7.2h-7.2zM501.4 430.6h7.2v7.2h-7.2zM503.8 430.4h7.2v7.2h-7.2zM505.8 431h7.2v7.2h-7.2zM507.5 429.1h7.2v7.2h-7.2zM509.1 428.1h7.2v7.2h-7.2zM510.5 428.2h7.2v7.2h-7.2zM511.7 425.9h7.2v7.2h-7.2zM512.9 426h7.2v7.2h-7.2zM514 422.4h7.2v7.2h-7.2zM515 426.7h7.2v7.2h-7.2zM515.9 422.8h7.2v7.2h-7.2zM516.8 427h7.2v7.2h-7.2zM517.6 424.9h7.2v7.2h-7.2zM518.4 422.4h7.2v7.2h-7.2zM519.1 420.9h7.2v7.2h-7.2zM519.9 421.5h7.2v7.2h-7.2zM520.5 424h7.2v7.2h-7.2zM521.2 424.3h7.2v7.2h-7.2zM521.8 419.9h7.2v7.2h-7.2zM522.4 419.5h7.2v7.2h-7.2zM522.9 422.6h7.2v7.2h-7.2zM523.5 422.9h7.2v7.2h-7.2zM524 421.4h7.2v7.2h-7.2zM524.5 420.1h7.2v7.2h-7.2zM525.4 422.7h7.2v7.2h-7.2zM526.3 418.2h7.2v7.2h-7.2zM527.2 420.2h7.2v7.2h-7.2zM527.9 421.2h7.2v7.2h-7.2zM528.7 424.6h7.2v7.2h-7.2zM529.4 422.2h7.2v7.2h-7.2zM530.1 423.8h7.2v7.2h-7.2zM530.7 420.8h7.2v7.2h-7.2zM531.3 418.9h7.2v7.2h-7.2zM531.9 418.9h7.2v7.2h-7.2zM532.5 424h7.2v7.2h-7.2zM533.1 422h7.2v7.2h-7.2zM533.6 419.1h7.2v7.2h-7.2zM534.1 416.9h7.2v7.2h-7.2zM534.8 420.2h7.2v7.2h-7.2zM535.5 421.3h7.2v7.2h-7.2zM536.2 419.4h7.2v7.2h-7.2zM536.8 418.1h7.2v7.2h-7.2zM537.4 420.9h7.2v7.2h-7.2zM538 422.6h7.2v7.2h-7.2zM538.5 417.5h7.2v7.2h-7.2zM539.1 416h7.2v7.2h-7.2zM539.6 418h7.2v7.2h-7.2zM540.2 418.4h7.2v7.2h-7.2zM540.9 420.2h7.2v7.2h-7.2zM541.5 416.5h7.2v7.2h-7.2zM542 420.7h7.2v7.2h-7.2zM542.6 420.1h7.2v7.2h-7.2zM543.1 418.3h7.2v7.2h-7.2zM543.6 415.9h7.2v7.2h-7.2zM544.3 421.3h7.2v7.2h-7.2zM544.8 416.3h7.2v7.2h-7.2zM545.4 419.8h7.2v7.2h-7.2zM546 415.4h7.2v7.2h-7.2zM546.5 415.1h7.2v7.2h-7.2zM547 418.8h7.2v7.2h-7.2zM547.6 415.3h7.2v7.2h-7.2zM548.1 419.8h7.2v7.2h-7.2zM548.7 416.3h7.2v7.2h-7.2zM549.2 413.9h7.2v7.2h-7.2zM549.7 413.9h7.2v7.2h-7.2zM550.3 415.1h7.2v7.2h-7.2zM550.8 416.7h7.2v7.2h-7.2zM551.3 418.5h7.2v7.2h-7.2zM551.8 412.5h7.2v7.2h-7.2zM552.4 414.1h7.2v7.2h-7.2zM552.9 412.5h7.2v7.2h-7.2zM553.4 417.8h7.2v7.2h-7.2zM554 411.6h7.2v7.2h-7.2zM554.5 410.7h7.2v7.2h-7.2zM555 410.5h7.2v7.2h-7.2z" stroke="#7347d8"/>
<path d="M451.2 464.7h7.2v7.2h-7.2zM463.1 460.5h7.2v7.2h-7.2zM469.4 458.1h7.2v7.2h-7.2zM473.8 457.2h7.2v7.2h-7.2zM477.1 456.2h7.2v7.2h-7.2zM479.8 453.3h7.2v7.2h-7.2zM482 451.9h7.2v7.2h-7.2zM484 454.4h7.2v7.2h-7.2zM485.7 453.1h7.2v7.2h-7.2zM487.2 449.3h7.2v7.2h-7.2zM488.5 452h7.2v7.2h-7.2zM489.8 450.2h7.2v7.2h-7.2zM490.9 449.8h7.2v7.2h-7.2zM492 449.3h7.2v7.2h-7.2zM493 448h7.2v7.2h-7.2zM493.9 446.7h7.2v7.2h-7.2zM494.8 448.1h7.2v7.2h-7.2zM495.6 448.4h7.2v7.2h-7.2zM496.4 452.1h7.2v7.2h-7.2zM497.1 446.4h7.2v7.2h-7.2zM497.8 451.9h7.2v7.2h-7.2zM498.5 446.5h7.2v7.2h-7.2zM499.1 447.4h7.2v7.2h-7.2zM499.7 450.5h7.2v7.2h-7.2zM500.3 450.3h7.2v7.2h-7.2zM500.8 447.4h7.2v7.2h-7.2zM501.4 444.3h7.2v7.2h-7.2zM501.9 447.3h7.2v7.2h-7.2zM502.9 446.2h7.2v7.2h-7.2zM503.8 450.2h7.2v7.2h-7.2zM504.6 444.2h7.2v7.2h-7.2zM505.4 445.2h7.2v7.2h-7.2zM506.2 449.3h7.2v7.2h-7.2zM506.9 441.8h7.2v7.2h-7.2zM507.6 444.7h7.2v7.2h-7.2zM508.3 447.9h7.2v7.2h-7.2zM508.9 447.3h7.2v7.2h-7.2zM509.5 440.6h7.2v7.2h-7.2zM510.1 440.3h7.2v7.2h-7.2zM510.6 440.3h7.2v7.2h-7.2zM511.2 447.9h7.2v7.2h-7.2zM511.7 441.5h7.2v7.2h-7.2zM512.4 445.7h7.2v7.2h-7.2zM513.1 446.8h7.2v7.2h-7.2zM513.8 441.3h7.2v7.2h-7.2zM514.4 440.4h7.2v7.2h-7.2zM515 446.4h7.2v7.2h-7.2zM515.6 443h7.2v7.2h-7.2zM516.2 439.5h7.2v7.2h-7.2zM516.7 443.4h7.2v7.2h-7.2zM517.2 439.5h7.2v7.2h-7.2zM517.7 438.9h7.2v7.2h-7.2zM518.4 436.1h7.2v7.2h-7.2zM519 442.7h7.2v7.2h-7.2zM519.6 444h7.2v7.2h-7.2zM520.1 441.1h7.2v7.2h-7.2zM520.7 443.7h7.2v7.2h-7.2zM521.2 435h7.2v7.2h-7.2zM521.7 436.7h7.2v7.2h-7.2zM522.3 438.7h7.2v7.2h-7.2zM522.9 442.9h7.2v7.2h-7.2zM523.5 442.6h7.2v7.2h-7.2zM524 437.2h7.2v7.2h-7.2zM524.5 435.8h7.2v7.2h-7.2zM525.1 437.2h7.2v7.2h-7.2zM525.7 437.6h7.2v7.2h-7.2zM526.2 441.4h7.2v7.2h-7.2zM526.8 434.3h7.2v7.2h-7.2zM527.3 439.8h7.2v7.2h-7.2zM527.8 439.1h7.2v7.2h-7.2zM528.4 439.6h7.2v7.2h-7.2zM528.9 439h7.2v7.2h-7.2zM529.4 437.3h7.2v7.2h-7.2zM530 434.6h7.2v7.2h-7.2zM530.5 434.4h7.2v7.2h-7.2zM531 434.6h7.2v7.2h-7.2zM531.5 438.3h7.2v7.2h-7.2zM532.1 431.7h7.2v7.2h-7.2zM532.6 432.7h7.2v7.2h-7.2zM533.1 437.6h7.2v7.2h-7.2zM533.6 432.9h7.2v7.2h-7.2zM534.2 431.1h7.2v7.2h-7.2zM534.7 430.7h7.2v7.2h-7.2zM535.2 435.3h7.2v7.2h-7.2zM535.7 433.1h7.2v7.2h-7.2zM536.2 439h7.2v7.2h-7.2zM536.8 438h7.2v7.2h-7.2zM537.3 438.9h7.2v7.2h-7.2zM537.8 432.1h7.2v7.2h-7.2zM538.3 430.4h7.2v7.2h-7.2zM538.9 430.4h7.2v7.2h-7.2zM539.4 434h7.2v7.2h-7.2zM539.9 435.8h7.2v7.2h-7.2zM540.4 433.3h7.2v7.2h-7.2zM540.9 431.3h7.2v7.2h-7.2zM541.4 432.9h7.2v7.2h-7.2zM541.9 434.7h7.2v7.2h-7.2zM542.4 435.1h7.2v7.2h-7.2zM542.9 435.7h7.2v7.2h-7.2zM543.5 436.5h7.2v7.2h-7.2zM544 434.7h7.2v7.2h-7.2zM544.5 429.6h7.2v7.2h-7.2zM545 436.2h7.2v7.2h-7.2zM545.5 431h7.2v7.2h-7.2zM546 433.5h7.2v7.2h-7.2zM546.5 431.6h7.2v7.2h-7.2zM547.1 434.9h7.2v7.2h-7.2zM547.6 429.8h7.2v7.2h-7.2zM548.1 430.2h7.2v7.2h-7.2zM548.6 430h7.2v7.2h-7.2zM549.1 429.1h7.2v7.2h-7.2zM549.6 435.7h7.2v7.2h-7.2zM550.1 432.8h7.2v7.2h-7.2zM550.6 430.4h7.2v7.2h-7.2zM551.1 430.9h7.2v7.2h-7.2zM551.6 436.3h7.2v7.2h-7.2zM552.1 431.7h7.2v7.2h-7.2zM552.6 429.1h7.2v7.2h-7.2zM553.1 434.2h7.2v7.2h-7.2zM553.6 432.7h7.2v7.2h-7.2zM554.1 435.7h7.2v7.2h-7.2zM554.6 427.4h7.2v7.2h-7.2zM555.1 430.6h7.2v7.2h-7.2z" stroke="#7d39e0"/>
<path d="M451.2 479.2h7.2v7.2h-7.2zM463.1 475h7.2v7.2h-7.2zM469.4 471.6h7.2v7.2h-7.2zM473.8 470.3h7.2v7.2h-7.2zM477.1 468.6h7.2v7.2h-7.2zM479.8 467.8h7.2v7.2h-7.2zM482 470h7.2v7.2h-7.2zM484 467.8h7.2v7.2h-7.2zM485.7 468.8h7.2v7.2h-7.2zM487.2 465.6h7.2v7.2h-7.2zM488.5 467.6h7.2v7.2h-7.2zM489.8 465h7.2v7.2h-7.2zM490.9 463.4h7.2v7.2h-7.2zM492 465.9h7.2v7.2h-7.2zM493 466.6h7.2v7.2h-7.2zM493.9 461.1h7.2v7.2h-7.2zM494.8 463.8h7.2v7.2h-7.2zM495.6 463.6h7.2v7.2h-7.2zM496.4 460.6h7.2v7.2h-7.2zM497.1 461.3h7.2v7.2h-7.2zM497.8 459.4h7.2v7.2h-7.2zM498.5 459.5h7.2v7.2h-7.2zM499.1 459.6h7.2v7.2h-7.2zM499.7 461.8h7.2v7.2h-7.2zM500.3 461.9h7.2v7.2h-7.2zM500.8 458.4h7.2v7.2h-7.2zM501.4 456.7h7.2v7.2h-7.2zM501.9 458.8h7.2v7.2h-7.2zM502.9 461.1h7.2v7.2h-7.2zM503.8 456.9h7.2v7.2h-7.2zM504.6 457.6h7.2v7.2h-7.2zM505.4 456.3h7.2v7.2h-7.2zM506.2 460.9h7.2v7.2h-7.2zM506.9 458.6h7.2v7.2h-7.2zM507.6 454.3h7.2v7.2h-7.2zM508.3 454.3h7.2v7.2h-7.2zM508.9 456.7h7.2v7.2h-7.2zM509.5 457.8h7.2v7.2h-7.2zM510.1 458.5h7.2v7.2h-7.2zM510.6 453.3h7.2v7.2h-7.2zM511.2 453.8h7.2v7.2h-7.2zM511.7 458.6h7.2v7.2h-7.2zM512.4 455.8h7.2v7.2h-7.2zM513.1 454.5h7.2v7.2h-7.2zM513.8 454.5h7.2v7.2h-7.2zM514.4 460.3h7.2v7.2h-7.2zM515 454.3h7.2v7.2h-7.2zM515.6 456.5h7.2v7.2h-7.2zM516.2 454.5h7.2v7.2h-7.2zM516.7 455h7.2v7.2h-7.2zM517.2 459h7.2v7.2h-7.2zM517.7 460.1h7.2v7.2h-7.2zM518.4 454.2h7.2v7.2h-7.2zM519 452.5h7.2v7.2h-7.2zM519.6 457.3h7.2v7.2h-7.2zM520.1 452.4h7.2v7.2h-7.2zM520.7 450.5h7.2v7.2h-7.2zM521.2 458.6h7.2v7.2h-7.2zM521.7 454.1h7.2v7.2h-7.2zM522.3 457.7h7.2v7.2h-7.2zM522.9 453.8h7.2v7.2h-7.2zM523.5 458h7.2v7.2h-7.2zM524 454.1h7.2v7.2h-7.2zM524.5 451.2h7.2v7.2h-7.2zM525.1 449.7h7.2v7.2h-7.2zM525.7 454.6h7.2v7.2h-7.2zM526.2 455.3h7.2v7.2h-7.2zM526.8 457.6h7.2v7.2h-7.2zM527.3 450h7.2v7.2h-7.2zM527.8 454.8h7.2v7.2h-7.2zM528.4 452.3h7.2v7.2h-7.2zM528.9 453.4h7.2v7.2h-7.2zM529.4 450h7.2v7.2h-7.2zM530 451.1h7.2v7.2h-7.2zM530.5 453.2h7.2v7.2h-7.2zM531 456.8h7.2v7.2h-7.2zM531.5 449.1h7.2v7.2h-7.2zM532.1 452.5h7.2v7.2h-7.2zM532.6 455.2h7.2v7.2h-7.2zM533.1 456.6h7.2v7.2h-7.2zM533.6 449.3h7.2v7.2h-7.2zM534.2 448.5h7.2v7.2h-7.2zM534.7 455.9h7.2v7.2h-7.2zM535.2 456h7.2v7.2h-7.2zM535.7 451.3h7.2v7.2h-7.2zM536.2 447.2h7.2v7.2h-7.2zM536.8 455h7.2v7.2h-7.2zM537.3 449.9h7.2v7.2h-7.2zM537.8 454.4h7.2v7.2h-7.2zM538.3 451.6h7.2v7.2h-7.2zM538.9 453.3h7.2v7.2h-7.2zM539.4 447h7.2v7.2h-7.2zM539.9 452.5h7.2v7.2h-7.2zM540.4 447.2h7.2v7.2h-7.2zM540.9 448.6h7.2v7.2h-7.2zM541.4 452.5h7.2v7.2h-7.2zM541.9 452.1h7.2v7.2h-7.2zM542.4 445.9h7.2v7.2h-7.2zM542.9 446h7.2v7.2h-7.2zM543.5 447.5h7.2v7.2h-7.2zM544 448.4h7.2v7.2h-7.2zM544.5 446.9h7.2v7.2h-7.2zM545 444.3h7.2v7.2h-7.2zM545.5 445.2h7.2v7.2h-7.2zM546 449.3h7.2v7.2h-7.2zM546.5 450.7h7.2v7.2h-7.2zM547.1 442.6h7.2v7.2h-7.2zM547.6 447.2h7.2v7.2h-7.2zM548.1 448.7h7.2v7.2h-7.2zM548.6 441.9h7.2v7.2h-7.2zM549.1 449h7.2v7.2h-7.2zM549.6 442.1h7.2v7.2h-7.2zM550.1 446.4h7.2v7.2h-7.2zM550.6 445.7h7.2v7.2h-7.2zM551.1 446.1h7.2v7.2h-7.2zM551.6 443h7.2v7.2h-7.2zM552.1 443.8h7.2v7.2h-7.2zM552.6 445.1h7.2v7.2h-7.2zM553.1 443.4h7.2v7.2h-7.2zM553.6 445.3h7.2v7.2h-7.2zM554.1 443.2h7.2v7.2h-7.2zM554.6 442.9h7.2v7.2h-7.2zM555.1 438.8h7.2v7.2h-7.2z" stroke="#872be7"/>
<path d="M451.2 493.2h7.2v7.2h-7.2zM463.1 488.3h7.2v7.2h-7.2zM469.4 486.6h7.2v7.2h-7.2zM473.8 485.3h7.2v7.2h-7.2zM477.1 483.4h7.2v7.2h-7.2zM479.8 481.5h7.2v7.2h-7.2zM482 481.9h7.2v7.2h-7.2zM484 479.7h7.2v7.2h-7.2zM485.7 479.2h7.2v7.2h-7.2zM487.2 480.1h7.2v7.2h-7.2zM488.5 477.9h7.2v7.2h-7.2zM489.8 479.3h7.2v7.2h-7.2zM490.9 479.3h7.2v7.2h-7.2zM492 476.3h7.2v7.2h-7.2zM493 479.4h7.2v7.2h-7.2zM493.9 475.7h7.2v7.2h-7.2zM494.8 479.4h7.2v7.2h-7.2zM495.6 479.4h7.2v7.2h-7.2zM496.4 477.4h7.2v7.2h-7.2zM497.1 474.1h7.2v7.2h-7.2zM497.8 476.8h7.2v7.2h-7.2zM498.5 475.7h7.2v7.2h-7.2zM499.1 479.4h7.2v7.2h-7.2zM499.7 473.4h7.2v7.2h-7.2zM500.3 478.3h7.2v7.2h-7.2zM500.8 479.2h7.2v7.2h-7.2zM501.4 477h7.2v7.2h-7.2zM501.9 477.4h7.2v7.2h-7.2zM502.9 472.3h7.2v7.2h-7.2zM503.8 478h7.2v7.2h-7.2zM504.6 473.8h7.2v7.2h-7.2zM505.4 477.2h7.2v7.2h-7.2zM506.2 476.6h7.2v7.2h-7.2zM506.9 470h7.2v7.2h-7.2zM507.6 474.9h7.2v7.2h-7.2zM508.3 475.9h7.2v7.2h-7.2zM508.9 468.1h7.2v7.2h-7.2zM509.5 470.3h7.2v7.2h-7.2zM510.1 473.7h7.2v7.2h-7.2zM510.6 468h7.2v7.2h-7.2zM511.2 474.5h7.2v7.2h-7.2zM511.7 468.6h7.2v7.2h-7.2zM512.4 473.3h7.2v7.2h-7.2zM513.1 466.8h7.2v7.2h-7.2zM513.8 469.9h7.2v7.2h-7.2zM514.4 473.5h7.2v7.2h-7.2zM515 466.7h7.2v7.2h-7.2zM515.6 467h7.2v7.2h-7.2zM516.2 469.1h7.2v7.2h-7.2zM516.7 467.2h7.2v7.2h-7.2zM517.2 464.4h7.2v7.2h-7.2zM517.7 465.6h7.2v7.2h-7.2zM518.4 465.2h7.2v7.2h-7.2zM519 472.2h7.2v7.2h-7.2zM519.6 469.6h7.2v7.2h-7.2zM520.1 471.5h7.2v7.2h-7.2zM520.7 464.6h7.2v7.2h-7.2zM521.2 470.2h7.2v7.2h-7.2zM521.7 463.9h7.2v7.2h-7.2zM522.3 467.6h7.2v7.2h-7.2zM522.9 468.4h7.2v7.2h-7.2zM523.5 465.7h7.2v7.2h-7.2zM524 470.3h7.2v7.2h-7.2zM524.5 467.3h7.2v7.2h-7.2zM525.1 467.4h7.2v7.2h-7.2zM525.7 470.1h7.2v7.2h-7.2zM526.2 462.8h7.2v7.2h-7.2zM526.8 470.9h7.2v7.2h-7.2zM527.3 467.4h7.2v7.2h-7.2zM527.8 465.2h7.2v7.2h-7.2zM528.4 468.8h7.2v7.2h-7.2zM528.9 463.8h7.2v7.2h-7.2zM529.4 470.4h7.2v7.2h-7.2zM530 466.5h7.2v7.2h-7.2zM530.5 464.4h7.2v7.2h-7.2zM531 468h7.2v7.2h-7.2zM531.5 465h7.2v7.2h-7.2zM532.1 462.4h7.2v7.2h-7.2zM532.6 467.6h7.2v7.2h-7.2zM533.1 461.1h7.2v7.2h-7.2zM533.6 468.1h7.2v7.2h-7.2zM534.2 462.8h7.2v7.2h-7.2zM534.7 466.2h7.2v7.2h-7.2zM535.2 469.3h7.2v7.2h-7.2zM535.7 465.5h7.2v7.2h-7.2zM536.2 466.2h7.2v7.2h-7.2zM536.8 462.8h7.2v7.2h-7.2zM537.3 459.9h7.2v7.2h-7.2zM537.8 460h7.2v7.2h-7.2zM538.3 461h7.2v7.2h-7.2zM538.9 465.2h7.2v7.2h-7.2zM539.4 463.4h7.2v7.2h-7.2zM539.9 464h7.2v7.2h-7.2zM540.4 467.4h7.2v7.2h-7.2zM540.9 460.3h7.2v7.2h-7.2zM541.4 461h7.2v7.2h-7.2zM541.9 464.8h7.2v7.2h-7.2zM542.4 458.8h7.2v7.2h-7.2zM542.9 458.5h7.2v7.2h-7.2zM543.5 461.6h7.2v7.2h-7.2zM544 459.2h7.2v7.2h-7.2zM544.5 461.3h7.2v7.2h-7.2zM545 460h7.2v7.2h-7.2zM545.5 463.1h7.2v7.2h-7.2zM546 463h7.2v7.2h-7.2zM546.5 459.3h7.2v7.2h-7.2zM547.1 463h7.2v7.2h-7.2zM547.6 461.4h7.2v7.2h-7.2zM548.1 458.1h7.2v7.2h-7.2zM548.6 465.3h7.2v7.2h-7.2zM549.1 458.7h7.2v7.2h-7.2zM549.6 457.7h7.2v7.2h-7.2zM550.1 457h7.2v7.2h-7.2zM550.6 461.8h7.2v7.2h-7.2zM551.1 463.7h7.2v7.2h-7.2zM551.6 462.7h7.2v7.2h-7.2zM552.1 459h7.2v7.2h-7.2zM552.6 457.5h7.2v7.2h-7.2zM553.1 455h7.2v7.2h-7.2zM553.6 460.6h7.2v7.2h-7.2zM554.1 459.6h7.2v7.2h-7.2zM554.6 457.5h7.2v7.2h-7.2zM555.1 460h7.2v7.2h-7.2z" stroke="#911def"/>
<path d="M451.2 505.9h7.2v7.2h-7.2zM463.1 501.5h7.2v7.2h-7.2zM469.4 498.6h7.2v7.2h-7.2zM473.8 498.2h7.2v7.2h-7.2zM477.1 494.7h7.2v7.2h-7.2zM479.8 495.2h7.2v7.2h-7.2zM482 494h7.2v7.2h-7.2zM484 492.7h7.2v7.2h-7.2zM485.7 491.3h7.2v7.2h-7.2zM487.2 494.2h7.2v7.2h-7.2zM488.5 490h7.2v7.2h-7.2zM489.8 492.4h7.2v7.2h-7.2zM490.9 494.3h7.2v7.2h-7.2zM492 489.5h7.2v7.2h-7.2zM493 489.5h7.2v7.2h-7.2zM493.9 491.7h7.2v7.2h-7.2zM494.8 490.8h7.2v7.2h-7.2zM495.6 491.5h7.2v7.2h-7.2zM496.4 492.4h7.2v7.2h-7.2zM497.1 488h7.2v7.2h-7.2zM497.8 488.6h7.2v7.2h-7.2zM498.5 488.4h7.2v7.2h-7.2zM499.1 486.4h7.2v7.2h-7.2zM499.7 492.1h7.2v7.2h-7.2zM500.3 491.2h7.2v7.2h-7.2zM500.8 490.6h7.2v7.2h-7.2zM501.4 485.1h7.2v7.2h-7.2zM501.9 491.2h7.2v7.2h-7.2zM502.9 490.2h7.2v7.2h-7.2zM503.8 487.7h7.2v7.2h-7.2zM504.6 489.5h7.2v7.2h-7.2zM505.4 486.9h7.2v7.2h-7.2zM506.2 484.7h7.2v7.2h-7.2zM506.9 483.4h7.2v7.2h-7.2zM507.6 484.1h7.2v7.2h-7.2zM508.3 482.1h7.2v7.2h-7.2zM508.9 484.4h7.2v7.2h-7.2zM509.5 487.8h7.2v7.2h-7.2zM510.1 487.1h7.2v7.2h-7.2zM510.6 488.2h7.2v7.2h-7.2zM511.2 486.7h7.2v7.2h-7.2zM511.7 482.4h7.2v7.2h-7.2zM512.4 484.7h7.2v7.2h-7.2zM513.1 483.3h7.2v7.2h-7.2zM513.8 486.2h7.2v7.2h-7.2zM514.4 483.5h7.2v7.2h-7.2zM515 480.8h7.2v7.2h-7.2zM515.6 484h7.2v7.2h-7.2zM516.2 486.8h7.2v7.2h-7.2zM516.7 479.6h7.2v7.2h-7.2zM517.2 485.5h7.2v7.2h-7.2zM517.7 477.3h7.2v7.2h-7.2zM518.4 479.3h7.2v7.2h-7.2zM519 478.8h7.2v7.2h-7.2zM519.6 483.2h7.2v7.2h-7.2zM520.1 484.9h7.2v7.2h-7.2zM520.7 482.8h7.2v7.2h-7.2zM521.2 478.7h7.2v7.2h-7.2zM521.7 483.6h7.2v7.2h-7.2zM522.3 478.3h7.2v7.2h-7.2zM522.9 477.3h7.2v7.2h-7.2zM523.5 483.2h7.2v7.2h-7.2zM524 480.5h7.2v7.2h-7.2zM524.5 480.9h7.2v7.2h-7.2zM525.1 480.4h7.2v7.2h-7.2zM525.7 483.1h7.2v7.2h-7.2zM526.2 478.3h7.2v7.2h-7.2zM526.8 481.5h7.2v7.2h-7.2zM527.3 480h7.2v7.2h-7.2zM527.8 481.3h7.2v7.2h-7.2zM528.4 477.3h7.2v7.2h-7.2zM528.9 479.8h7.2v7.2h-7.2zM529.4 478.3h7.2v7.2h-7.2zM530 475.7h7.2v7.2h-7.2zM530.5 474.7h7.2v7.2h-7.2zM531 478.3h7.2v7.2h-7.2zM531.5 473.2h7.2v7.2h-7.2zM532.1 480.7h7.2v7.2h-7.2zM532.6 473.6h7.2v7.2h-7.2zM533.1 472.4h7.2v7.2h-7.2zM533.6 473h7.2v7.2h-7.2zM534.2 480.5h7.2v7.2h-7.2zM534.7 475h7.2v7.2h-7.2zM535.2 473h7.2v7.2h-7.2zM535.7 471.9h7.2v7.2h-7.2zM536.2 471.9h7.2v7.2h-7.2zM536.8 477.8h7.2v7.2h-7.2zM537.3 477.1h7.2v7.2h-7.2zM537.8 477.6h7.2v7.2h-7.2zM538.3 477.9h7.2v7.2h-7.2zM538.9 471.7h7.2v7.2h-7.2zM539.4 476.4h7.2v7.2h-7.2zM539.9 474.2h7.2v7.2h-7.2zM540.4 478.3h7.2v7.2h-7.2zM540.9 478.2h7.2v7.2h-7.2zM541.4 478.8h7.2v7.2h-7.2zM541.9 471.1h7.2v7.2h-7.2zM542.4 478.4h7.2v7.2h-7.2zM542.9 478.8h7.2v7.2h-7.2zM543.5 479h7.2v7.2h-7.2zM544 471.2h7.2v7.2h-7.2zM544.5 472h7.2v7.2h-7.2zM545 471h7.2v7.2h-7.2zM545.5 470.2h7.2v7.2h-7.2zM546 477.6h7.2v7.2h-7.2zM546.5 477.2h7.2v7.2h-7.2zM547.1 475.4h7.2v7.2h-7.2zM547.6 477.1h7.2v7.2h-7.2zM548.1 475.2h7.2v7.2h-7.2zM548.6 471.9h7.2v7.2h-7.2zM549.1 470.1h7.2v7.2h-7.2zM549.6 469.9h7.2v7.2h-7.2zM550.1 475.9h7.2v7.2h-7.2zM550.6 470.7h7.2v7.2h-7.2zM551.1 471.6h7.2v7.2h-7.2zM551.6 472.4h7.2v7.2h-7.2zM552.1 468.6h7.2v7.2h-7.2zM552.6 470.6h7.2v7.2h-7.2zM553.1 470.7h7.2v7.2h-7.2zM553.6 474.6h7.2v7.2h-7.2zM554.1 471.2h7.2v7.2h-7.2zM554.6 470.6h7.2v7.2h-7.2zM555.1 476.4h7.2v7.2h-7.2z" stroke="#9c0ef7"/>
<path d="M451.2 518.2h7.2v7.2h-7.2zM463.1 513.7h7.2v7.2h-7.2zM469.4 510.6h7.2v7.2h-7.2zM473.8 509.4h7.2v7.2h-7.2zM477.1 508.2h7.2v7.2h-7.2zM479.8 508.5h7.2v7.2h-7.2zM482 506.2h7.2v7.2h-7.2zM484 507.1h7.2v7.2h-7.2zM485.7 505.9h7.2v7.2h-7.2zM487.2 503.9h7.2v7.2h-7.2zM488.5 506.8h7.2v7.2h-7.2zM489.8 502.4h7.2v7.2h-7.2zM490.9 506h7.2v7.2h-7.2zM492 502h7.2v7.2h-7.2zM493 500.7h7.2v7.2h-7.2zM493.9 501.6h7.2v7.2h-7.2zM494.8 504.7h7.2v7.2h-7.2zM495.6 505.9h7.2v7.2h-7.2zM496.4 499.4h7.2v7.2h-7.2zM497.1 502.3h7.2v7.2h-7.2zM497.8 502.1h7.2v7.2h-7.2zM498.5 504h7.2v7.2h-7.2zM499.1 499.5h7.2v7.2h-7.2zM499.7 501.4h7.2v7.2h-7.2zM500.3 500.2h7.2v7.2h-7.2zM500.8 503.5h7.2v7.2h-7.2zM501.4 499.1h7.2v7.2h-7.2zM501.9 504h7.2v7.2h-7.2zM502.9 498.6h7.2v7.2h-7.2zM503.8 497.7h7.2v7.2h-7.2zM504.6 501.1h7.2v7.2h-7.2zM505.4 499.2h7.2v7.2h-7.2zM506.2 495.6h7.2v7.2h-7.2zM506.9 499.7h7.2v7.2h-7.2zM507.6 494.6h7.2v7.2h-7.2zM508.3 500.4h7.2v7.2h-7.2zM508.9 499.4h7.2v7.2h-7.2zM509.5 499.9h7.2v7.2h-7.2zM510.1 498.2h7.2v7.2h-7.2zM510.6 495.5h7.2v7.2h-7.2zM511.2 495.7h7.2v7.2h-7.2zM511.7 495.4h7.2v7.2h-7.2zM512.4 499.6h7.2v7.2h-7.2zM513.1 491.9h7.2v7.2h-7.2zM513.8 498.9h7.2v7.2h-7.2zM514.4 490.7h7.2v7.2h-7.2zM515 492.1h7.2v7.2h-7.2zM515.6 492.4h7.2v7.2h-7.2zM516.2 498h7.2v7.2h-7.2zM516.7 494.1h7.2v7.2h-7.2zM517.2 492.8h7.2v7.2h-7.2zM517.7 497.2h7.2v7.2h-7.2zM518.4 491h7.2v7.2h-7.2zM519 492.8h7.2v7.2h-7.2zM519.6 493.2h7.2v7.2h-7.2zM520.1 495.1h7.2v7.2h-7.2zM520.7 494.9h7.2v7.2h-7.2zM521.2 493.7h7.2v7.2h-7.2zM521.7 490.8h7.2v7.2h-7.2zM522.3 490.4h7.2v7.2h-7.2zM522.9 488.6h7.2v7.2h-7.2zM523.5 494.8h7.2v7.2h-7.2zM524 492.9h7.2v7.2h-7.2zM524.5 493.5h7.2v7.2h-7.2zM525.1 488.1h7.2v7.2h-7.2zM525.7 490.4h7.2v7.2h-7.2zM526.2 493.3h7.2v7.2h-7.2zM526.8 491.4h7.2v7.2h-7.2zM527.3 487.1h7.2v7.2h-7.2zM527.8 490.1h7.2v7.2h-7.2zM528.4 493.8h7.2v7.2h-7.2zM528.9 487.7h7.2v7.2h-7.2zM529.4 487.2h7.2v7.2h-7.2zM530 488.1h7.2v7.2h-7.2zM530.5 491.7h7.2v7.2h-7.2zM531 492.9h7.2v7.2h-7.2zM531.5 486.4h7.2v7.2h-7.2zM532.1 486.3h7.2v7.2h-7.2zM532.6 487.1h7.2v7.2h-7.2zM533.1 487.7h7.2v7.2h-7.2zM533.6 489.4h7.2v7.2h-7.2zM534.2 486h7.2v7.2h-7.2zM534.7 487.4h7.2v7.2h-7.2zM535.2 486.1h7.2v7.2h-7.2zM535.7 493.2h7.2v7.2h-7.2zM536.2 490.8h7.2v7.2h-7.2zM536.8 485h7.2v7.2h-7.2zM537.3 492.8h7.2v7.2h-7.2zM537.8 484.8h7.2v7.2h-7.2zM538.3 487.3h7.2v7.2h-7.2zM538.9 492.7h7.2v7.2h-7.2zM539.4 490.9h7.2v7.2h-7.2zM539.9 490.3h7.2v7.2h-7.2zM540.4 487.4h7.2v7.2h-7.2zM540.9 485.1h7.2v7.2h-7.2zM541.4 489.1h7.2v7.2h-7.2zM541.9 484.1h7.2v7.2h-7.2zM542.4 484.9h7.2v7.2h-7.2zM542.9 486.5h7.2v7.2h-7.2zM543.5 483.1h7.2v7.2h-7.2zM544 486.4h7.2v7.2h-7.2zM544.5 489.9h7.2v7.2h-7.2zM545 488.9h7.2v7.2h-7.2zM545.5 487h7.2v7.2h-7.2zM546 488.1h7.2v7.2h-7.2zM546.5 486.4h7.2v7.2h-7.2zM547.1 483.3h7.2v7.2h-7.2zM547.6 487.5h7.2v7.2h-7.2zM548.1 485.5h7.2v7.2h-7.2zM548.6 488.5h7.2v7.2h-7.2zM549.1 489.9h7.2v7.2h-7.2zM549.6 485.3h7.2v7.2h-7.2zM550.1 486.5h7.2v7.2h-7.2zM550.6 488h7.2v7.2h-7.2zM551.1 484.8h7.2v7.2h-7.2zM551.6 482.9h7.2v7.2h-7.2zM552.1 487.2h7.2v7.2h-7.2zM552.6 488.5h7.2v7.2h-7.2zM553.1 487.4h7.2v7.2h-7.2zM553.6 486.5h7.2v7.2h-7.2zM554.1 487.7h7.2v7.2h-7.2zM554.6 486h7.2v7.2h-7.2zM555.1 485.4h7.2v7.2h-7.2z" stroke="#a600ff"/>
</g>
<g font-family="Liberation Sans, Arial, sans-serif" fill="#000" style="font-kerning:none">
<text transform="translate(70.52 638.75) scale(0.9628 1)" font-size="32.5">10</text>
<text transform="translate(104.7 622.85) scale(1 1)" font-size="19.6">5</text>
<text transform="translate(70.52 554.71) scale(0.9628 1)" font-size="32.5">10</text>
<text transform="translate(104.7 538.81) scale(1 1)" font-size="19.6">6</text>
<text transform="translate(70.52 470.66) scale(0.9628 1)" font-size="32.5">10</text>
<text transform="translate(104.7 454.76) scale(1 1)" font-size="19.6">7</text>
<text transform="translate(70.52 386.62) scale(0.9628 1)" font-size="32.5">10</text>
<text transform="translate(104.7 370.72) scale(1 1)" font-size="19.6">8</text>
<text transform="translate(70.52 302.58) scale(0.9628 1)" font-size="32.5">10</text>
<text transform="translate(104.7 286.68) scale(1 1)" font-size="19.6">9</text>
<text transform="translate(59.62 218.54) scale(0.9628 1)" font-size="32.5">10</text>
<text transform="translate(93.8 202.64) scale(1 1)" font-size="19.6">10</text>
<text transform="translate(59.62 134.49) scale(0.9628 1)" font-size="32.5">10</text>
<text transform="translate(93.8 118.59) scale(1 1)" font-size="19.6">11</text>
<text transform="translate(59.62 50.45) scale(0.9628 1)" font-size="32.5">10</text>
<text transform="translate(93.8 34.55) scale(1 1)" font-size="19.6">12</text>
<text transform="translate(96.81 667.8) scale(0.969 1)" font-size="32.5">10</text>
<text transform="translate(132.06 651.9) scale(1 1)" font-size="19.6">-10</text>
<text transform="translate(264.16 667.8) scale(0.969 1)" font-size="32.5">10</text>
<text transform="translate(299.41 651.9) scale(1 1)" font-size="19.6">-5</text>
<text transform="translate(429.33 667.8) scale(0.969 1)" font-size="32.5">10</text>
<text transform="translate(464.57 651.9) scale(1 1)" font-size="19.6">0</text>
<text transform="translate(591.23 667.8) scale(0.969 1)" font-size="32.5">10</text>
<text transform="translate(626.47 651.9) scale(1 1)" font-size="19.6">5</text>
<text transform="translate(747.68 667.8) scale(0.969 1)" font-size="32.5">10</text>
<text transform="translate(782.92 651.9) scale(1 1)" font-size="19.6">10</text>
<text transform="translate(392.77 709.2) scale(1.0185 1)" font-size="31.8">Time (s)</text>
<text transform="translate(33.6 501.93) rotate(-90) scale(1.0065 1.03)" font-size="31.8">Low-field</text>
<text transform="translate(33.6 365.35) rotate(-90) scale(1.0205 1.03)" font-size="31.8">resistance</text>
<text transform="translate(33.6 208.7) rotate(-90) scale(0.9133 1.03)" font-size="31.8">(</text>
<text transform="translate(33.9 199.12) rotate(-90) scale(1.05 1.03)" font-size="33.5" font-family="Liberation Serif, Times New Roman, serif">Ω</text>
<text transform="translate(33.6 171.96) rotate(-90) scale(0.8777 1.03)" font-size="31.8">)</text>
<text transform="translate(0.67 34.2) scale(0.8879 1)" font-size="39.5" font-weight="bold">a</text>
</g>
<rect x="156.7" y="59.2" width="250.6" height="86.9" fill="#fff" stroke="#000" stroke-width="1.7"/>
<rect x="193" y="76.6" width="11.2" height="11.2" fill="none" stroke="#000" stroke-width="1.6"/>
<path d="M162 123.5H236.5" stroke="#000" stroke-width="3" stroke-linecap="round"/>
<g font-family="Liberation Sans, Arial, sans-serif" fill="#000" style="font-kerning:none">
<text transform="translate(245.14 94.3) scale(0.9879 1)" font-size="31.6">Experiment</text>
<text transform="translate(245.47 135.2) scale(0.9941 1)" font-size="31.6">Simulation</text>
<text transform="translate(416.37 586.3) scale(1.0233 1)" font-size="31.6">Temperature step: 20 K</text>
<text transform="translate(169.39 224.85) scale(0.9903 1)" font-size="33.3" fill="#0aa9f7">160 K</text>
<text transform="translate(674.83 517.1) scale(1.0037 1)" font-size="33.3" fill="#a402ff">420 K</text>
</g>
<path d="M257.5 219.7L286.2 238.8" stroke="#0aa9f7" stroke-width="2.2" stroke-linecap="round"/>
<path d="M302.9 249.9L281.4 242.5L287.8 232.9z" fill="#0aa9f7"/>
<path d="M665.1 505L640.6 486.5" stroke="#a402ff" stroke-width="2.2" stroke-linecap="round"/>
<path d="M624.6 474.4L645.6 483L638.7 492.3z" fill="#a402ff"/>
</g>
<g id="panel-b">
<path d="M1028.5 473.8h7.4v7.4h-7.4zM1137.2 457.6h7.4v7.4h-7.4zM1176 455.5h7.4v7.4h-7.4zM1200.2 456.9h7.4v7.4h-7.4zM1217.8 450.4h7.4v7.4h-7.4zM1231.7 449.8h7.4v7.4h-7.4zM1243.2 447.5h7.4v7.4h-7.4zM1252.9 447.8h7.4v7.4h-7.4zM1261.4 445.8h7.4v7.4h-7.4zM1268.9 444.6h7.4v7.4h-7.4zM1275.6 442h7.4v7.4h-7.4zM1281.7 441h7.4v7.4h-7.4zM1287.3 442.1h7.4v7.4h-7.4zM1292.4 445h7.4v7.4h-7.4zM1297.2 441.4h7.4v7.4h-7.4zM1301.6 442.6h7.4v7.4h-7.4zM1305.8 441.5h7.4v7.4h-7.4zM1309.7 442.3h7.4v7.4h-7.4zM1313.4 439.7h7.4v7.4h-7.4zM1316.9 440.6h7.4v7.4h-7.4zM1320.2 441.6h7.4v7.4h-7.4zM1323.4 441h7.4v7.4h-7.4zM1326.4 439.9h7.4v7.4h-7.4zM1329.2 437.3h7.4v7.4h-7.4zM1332 438h7.4v7.4h-7.4zM1334.6 437.9h7.4v7.4h-7.4zM1337.2 438.5h7.4v7.4h-7.4zM1339.6 437h7.4v7.4h-7.4zM1342 438.3h7.4v7.4h-7.4zM1344.3 439.5h7.4v7.4h-7.4zM1346.5 434.8h7.4v7.4h-7.4zM1348.6 437.3h7.4v7.4h-7.4zM1350.7 437.8h7.4v7.4h-7.4zM1352.7 435.2h7.4v7.4h-7.4zM1354.6 435.6h7.4v7.4h-7.4zM1356.5 438.3h7.4v7.4h-7.4zM1358.3 432.5h7.4v7.4h-7.4zM1360.1 435.3h7.4v7.4h-7.4zM1361.8 432.8h7.4v7.4h-7.4zM1363.5 436.3h7.4v7.4h-7.4zM1365.2 437h7.4v7.4h-7.4zM1366.8 434.3h7.4v7.4h-7.4zM1368.4 431.6h7.4v7.4h-7.4zM1369.9 434.3h7.4v7.4h-7.4zM1371.4 433.9h7.4v7.4h-7.4zM1372.8 434.8h7.4v7.4h-7.4zM1374.3 433.3h7.4v7.4h-7.4zM1375.7 433.9h7.4v7.4h-7.4zM1377 432.9h7.4v7.4h-7.4zM1378.4 431.1h7.4v7.4h-7.4zM1379.7 430.3h7.4v7.4h-7.4zM1381 433.1h7.4v7.4h-7.4zM1382.3 428.9h7.4v7.4h-7.4zM1383.5 431.3h7.4v7.4h-7.4zM1384.7 429.6h7.4v7.4h-7.4zM1385.9 431.5h7.4v7.4h-7.4zM1387.1 427.9h7.4v7.4h-7.4zM1388.2 432.4h7.4v7.4h-7.4zM1389.4 428.8h7.4v7.4h-7.4zM1390.5 427.1h7.4v7.4h-7.4zM1391.6 428.1h7.4v7.4h-7.4zM1392.7 428.7h7.4v7.4h-7.4zM1393.7 426.5h7.4v7.4h-7.4zM1394.8 428.5h7.4v7.4h-7.4zM1395.8 428.4h7.4v7.4h-7.4zM1396.8 429.8h7.4v7.4h-7.4zM1397.8 427.8h7.4v7.4h-7.4zM1398.8 427.2h7.4v7.4h-7.4zM1399.7 426.9h7.4v7.4h-7.4zM1400.7 429.5h7.4v7.4h-7.4zM1401.6 430.5h7.4v7.4h-7.4zM1402.6 428.2h7.4v7.4h-7.4zM1403.5 426.4h7.4v7.4h-7.4zM1404.4 429.4h7.4v7.4h-7.4zM1405.3 427.1h7.4v7.4h-7.4zM1406.1 426h7.4v7.4h-7.4zM1407 425.5h7.4v7.4h-7.4zM1407.9 428.9h7.4v7.4h-7.4zM1408.7 428.9h7.4v7.4h-7.4zM1409.5 427.9h7.4v7.4h-7.4zM1410.3 426.9h7.4v7.4h-7.4zM1411.2 427.3h7.4v7.4h-7.4zM1412 425.4h7.4v7.4h-7.4zM1412.7 429.3h7.4v7.4h-7.4zM1413.5 425.9h7.4v7.4h-7.4zM1414.3 427.3h7.4v7.4h-7.4zM1415.1 428.2h7.4v7.4h-7.4zM1415.8 428.1h7.4v7.4h-7.4zM1416.6 426.1h7.4v7.4h-7.4zM1417.3 425.1h7.4v7.4h-7.4zM1418 426.4h7.4v7.4h-7.4zM1418.8 424h7.4v7.4h-7.4zM1419.5 427.8h7.4v7.4h-7.4zM1420.2 425.1h7.4v7.4h-7.4zM1421.6 430.1h7.4v7.4h-7.4zM1422.9 424.6h7.4v7.4h-7.4zM1424.3 425.4h7.4v7.4h-7.4zM1425.6 424.1h7.4v7.4h-7.4zM1426.8 425.6h7.4v7.4h-7.4zM1428.1 423.2h7.4v7.4h-7.4zM1429.3 421.4h7.4v7.4h-7.4zM1430.5 427.8h7.4v7.4h-7.4zM1431.7 423.6h7.4v7.4h-7.4zM1432.9 423.2h7.4v7.4h-7.4zM1434 423.5h7.4v7.4h-7.4zM1435.2 425h7.4v7.4h-7.4zM1436.3 424.4h7.4v7.4h-7.4zM1437.4 426.2h7.4v7.4h-7.4zM1438.4 426.3h7.4v7.4h-7.4zM1439.5 423.4h7.4v7.4h-7.4zM1440.5 428.5h7.4v7.4h-7.4zM1441.5 427.7h7.4v7.4h-7.4zM1442.5 420.3h7.4v7.4h-7.4zM1443.5 427.2h7.4v7.4h-7.4zM1444.5 427.8h7.4v7.4h-7.4zM1445.5 426.6h7.4v7.4h-7.4zM1446.4 420.5h7.4v7.4h-7.4zM1449.8 425.9h7.4v7.4h-7.4zM1448.8 424.6h7.4v7.4h-7.4zM1450.6 427.7h7.4v7.4h-7.4zM1449.7 426.7h7.4v7.4h-7.4zM1449.8 428.1h7.4v7.4h-7.4zM1451.1 429.3h7.4v7.4h-7.4zM1450.3 432.1h7.4v7.4h-7.4zM1451.6 430.5h7.4v7.4h-7.4zM1452 432.9h7.4v7.4h-7.4zM1452.1 434h7.4v7.4h-7.4zM1452.6 435.3h7.4v7.4h-7.4zM1452.8 434.2h7.4v7.4h-7.4zM1452.8 436.2h7.4v7.4h-7.4zM1453.1 436.8h7.4v7.4h-7.4zM1453.6 438.1h7.4v7.4h-7.4zM1452.9 437.9h7.4v7.4h-7.4zM1453 439.7h7.4v7.4h-7.4zM1453.1 440.5h7.4v7.4h-7.4zM1453.6 441.4h7.4v7.4h-7.4zM1454.5 442.4h7.4v7.4h-7.4zM1455.4 441.5h7.4v7.4h-7.4zM1455.7 443.9h7.4v7.4h-7.4zM1455.6 445.4h7.4v7.4h-7.4zM1456.4 445.2h7.4v7.4h-7.4zM1456 448.1h7.4v7.4h-7.4zM1455.8 447.8h7.4v7.4h-7.4zM1457.1 446.6h7.4v7.4h-7.4zM1457.4 449.7h7.4v7.4h-7.4zM1458.2 449.3h7.4v7.4h-7.4zM1458.6 450.8h7.4v7.4h-7.4zM1458.2 452.9h7.4v7.4h-7.4zM1457.8 453.2h7.4v7.4h-7.4zM1459.1 452.7h7.4v7.4h-7.4zM1459.8 453.7h7.4v7.4h-7.4zM1459.5 455h7.4v7.4h-7.4zM1460.3 454.8h7.4v7.4h-7.4zM1460.2 456.3h7.4v7.4h-7.4zM1460.9 458.5h7.4v7.4h-7.4zM1460.9 459.3h7.4v7.4h-7.4zM1461.5 459h7.4v7.4h-7.4zM1461.8 459.9h7.4v7.4h-7.4zM1463.3 461.2h7.4v7.4h-7.4zM1463.5 460.9h7.4v7.4h-7.4zM1463.2 461.6h7.4v7.4h-7.4zM1464.1 463.5h7.4v7.4h-7.4zM1464.8 462.3h7.4v7.4h-7.4zM1465.2 466h7.4v7.4h-7.4zM1465.3 463.9h7.4v7.4h-7.4zM1465.4 464.6h7.4v7.4h-7.4zM1465.7 468.5h7.4v7.4h-7.4zM1466.8 468.4h7.4v7.4h-7.4zM1467.5 470.1h7.4v7.4h-7.4zM1467.7 469.9h7.4v7.4h-7.4zM1468.1 471h7.4v7.4h-7.4zM1468.5 471.7h7.4v7.4h-7.4zM1468.4 472.5h7.4v7.4h-7.4zM1469.2 473.6h7.4v7.4h-7.4zM1469.1 472.4h7.4v7.4h-7.4zM1469.4 475.3h7.4v7.4h-7.4zM1471.3 475.7h7.4v7.4h-7.4zM1470.9 477h7.4v7.4h-7.4zM1472 477h7.4v7.4h-7.4zM1471.6 476.9h7.4v7.4h-7.4zM1472.3 477.7h7.4v7.4h-7.4zM1472.8 479.7h7.4v7.4h-7.4zM1474 478.5h7.4v7.4h-7.4zM1473.9 479.2h7.4v7.4h-7.4zM1473.6 482.6h7.4v7.4h-7.4zM1474.8 483.8h7.4v7.4h-7.4zM1475 481.5h7.4v7.4h-7.4zM1475.4 484.3h7.4v7.4h-7.4zM1476.7 486.4h7.4v7.4h-7.4zM1476.4 485.3h7.4v7.4h-7.4zM1476.3 486.9h7.4v7.4h-7.4zM1476.9 486h7.4v7.4h-7.4zM1477 486.3h7.4v7.4h-7.4zM1478.5 487.5h7.4v7.4h-7.4zM1479.4 488.2h7.4v7.4h-7.4zM1479.7 489.1h7.4v7.4h-7.4zM1478.8 491.9h7.4v7.4h-7.4zM1479.6 492.8h7.4v7.4h-7.4zM1480 491.3h7.4v7.4h-7.4zM1481.4 494.3h7.4v7.4h-7.4zM1481.9 495.2h7.4v7.4h-7.4zM1481.1 495.6h7.4v7.4h-7.4zM1482.6 495.9h7.4v7.4h-7.4zM1483.4 496h7.4v7.4h-7.4zM1483.8 498.4h7.4v7.4h-7.4zM1482.7 496.8h7.4v7.4h-7.4zM1484.2 500.3h7.4v7.4h-7.4zM1483.7 499.4h7.4v7.4h-7.4zM1485.1 499.7h7.4v7.4h-7.4zM1485.7 501.6h7.4v7.4h-7.4zM1484.8 502h7.4v7.4h-7.4zM1486.1 503.1h7.4v7.4h-7.4zM1486.6 502.9h7.4v7.4h-7.4zM1487.2 504.5h7.4v7.4h-7.4zM1487.4 506.2h7.4v7.4h-7.4zM1487.4 506.2h7.4v7.4h-7.4zM1488.4 508.9h7.4v7.4h-7.4zM1488.8 508.4h7.4v7.4h-7.4zM1488.5 507.5h7.4v7.4h-7.4zM1490 510.5h7.4v7.4h-7.4zM1490.3 510h7.4v7.4h-7.4zM1490.4 513h7.4v7.4h-7.4zM1491.2 512.5h7.4v7.4h-7.4zM1490.9 512.8h7.4v7.4h-7.4zM1492.3 513.4h7.4v7.4h-7.4zM1492.4 514.9h7.4v7.4h-7.4zM1493.2 516.4h7.4v7.4h-7.4zM1492.8 512.9h7.4v7.4h-7.4zM1493.2 513.5h7.4v7.4h-7.4zM1494.2 514h7.4v7.4h-7.4zM1495.2 510.6h7.4v7.4h-7.4zM1495.6 512.4h7.4v7.4h-7.4zM1496.2 510.7h7.4v7.4h-7.4zM1496 511.1h7.4v7.4h-7.4zM1497.6 509.8h7.4v7.4h-7.4zM1498.5 508.1h7.4v7.4h-7.4zM1498 508.1h7.4v7.4h-7.4zM1499.9 506.3h7.4v7.4h-7.4zM1500.5 508.1h7.4v7.4h-7.4zM1500.5 506.4h7.4v7.4h-7.4zM1502 505.4h7.4v7.4h-7.4zM1502.1 504.2h7.4v7.4h-7.4zM1503.8 505.6h7.4v7.4h-7.4zM1504.2 502.7h7.4v7.4h-7.4zM1505.6 504.5h7.4v7.4h-7.4zM1505.5 503.4h7.4v7.4h-7.4zM1507.4 504h7.4v7.4h-7.4zM1507.7 502.1h7.4v7.4h-7.4zM1508.6 500.6h7.4v7.4h-7.4zM1509 500.3h7.4v7.4h-7.4zM1510.7 500.6h7.4v7.4h-7.4zM1511.5 500.4h7.4v7.4h-7.4zM1512.3 499.2h7.4v7.4h-7.4zM1512.5 501.8h7.4v7.4h-7.4zM1514 498.4h7.4v7.4h-7.4zM1515.4 500.4h7.4v7.4h-7.4zM1515.5 499.4h7.4v7.4h-7.4zM1516.9 498.9h7.4v7.4h-7.4zM1517.4 497h7.4v7.4h-7.4zM1517.4 499.4h7.4v7.4h-7.4zM1516.7 497.7h7.4v7.4h-7.4zM1516.5 497.3h7.4v7.4h-7.4zM1516.8 496.9h7.4v7.4h-7.4zM1517.5 495.6h7.4v7.4h-7.4zM1518 493h7.4v7.4h-7.4zM1516.6 492h7.4v7.4h-7.4zM1516.9 490.7h7.4v7.4h-7.4zM1516.9 491.1h7.4v7.4h-7.4zM1518.3 489.9h7.4v7.4h-7.4zM1518.5 490.2h7.4v7.4h-7.4zM1517.2 488.4h7.4v7.4h-7.4zM1517.9 486.1h7.4v7.4h-7.4zM1518.9 485.6h7.4v7.4h-7.4zM1518.4 485.7h7.4v7.4h-7.4zM1519.2 484.9h7.4v7.4h-7.4zM1518.4 483.3h7.4v7.4h-7.4zM1518.1 483.8h7.4v7.4h-7.4zM1519.6 480.8h7.4v7.4h-7.4zM1518.2 480h7.4v7.4h-7.4zM1518.9 480.8h7.4v7.4h-7.4zM1519.9 479.7h7.4v7.4h-7.4zM1518.7 478.6h7.4v7.4h-7.4zM1519.9 477.3h7.4v7.4h-7.4zM1520.4 474.7h7.4v7.4h-7.4zM1519.2 475.7h7.4v7.4h-7.4zM1520.7 474.5h7.4v7.4h-7.4zM1519.8 473.4h7.4v7.4h-7.4zM1520.7 471.1h7.4v7.4h-7.4zM1520.1 470.5h7.4v7.4h-7.4zM1519.9 470.2h7.4v7.4h-7.4zM1520.1 468.6h7.4v7.4h-7.4zM1520.2 468.9h7.4v7.4h-7.4zM1520.2 468.1h7.4v7.4h-7.4zM1520.6 465.2h7.4v7.4h-7.4zM1521.9 464.8h7.4v7.4h-7.4zM1522 465.7h7.4v7.4h-7.4zM1522.1 462.7h7.4v7.4h-7.4zM1521.5 461.6h7.4v7.4h-7.4zM1522.4 462.8h7.4v7.4h-7.4zM1522.1 460.8h7.4v7.4h-7.4zM1521.7 460.9h7.4v7.4h-7.4zM1522.1 459.4h7.4v7.4h-7.4zM1521.7 457.3h7.4v7.4h-7.4zM1521.7 457.8h7.4v7.4h-7.4zM1522.6 455.2h7.4v7.4h-7.4zM1523.2 454.6h7.4v7.4h-7.4zM1522.6 453.4h7.4v7.4h-7.4zM1522.5 454.4h7.4v7.4h-7.4zM1522.8 451.6h7.4v7.4h-7.4zM1523.1 451.1h7.4v7.4h-7.4zM1523.9 449.6h7.4v7.4h-7.4zM1524.2 448.5h7.4v7.4h-7.4zM1524.2 449.2h7.4v7.4h-7.4zM1523.2 447.8h7.4v7.4h-7.4zM1523.4 446.2h7.4v7.4h-7.4zM1523.4 445.6h7.4v7.4h-7.4zM1524.8 446.5h7.4v7.4h-7.4zM1524.8 443h7.4v7.4h-7.4zM1524 444.3h7.4v7.4h-7.4zM1523.7 442.9h7.4v7.4h-7.4zM1524.2 442.7h7.4v7.4h-7.4zM1523.9 441.3h7.4v7.4h-7.4zM1524.6 438.5h7.4v7.4h-7.4zM1524.1 439.5h7.4v7.4h-7.4zM1525.1 436.8h7.4v7.4h-7.4zM1525.1 437.9h7.4v7.4h-7.4zM1524.9 436h7.4v7.4h-7.4zM1524.9 434h7.4v7.4h-7.4zM1526 434.5h7.4v7.4h-7.4zM1525.2 431.8h7.4v7.4h-7.4zM1525.2 432.4h7.4v7.4h-7.4zM1525.9 430.5h7.4v7.4h-7.4zM1525.6 430.5h7.4v7.4h-7.4zM1526.5 430.2h7.4v7.4h-7.4zM1526.4 427.5h7.4v7.4h-7.4zM1525.7 428.1h7.4v7.4h-7.4zM1526.4 427.2h7.4v7.4h-7.4zM1525.9 426.5h7.4v7.4h-7.4zM1526.5 425.6h7.4v7.4h-7.4zM1527.5 423.7h7.4v7.4h-7.4zM1526.2 424h7.4v7.4h-7.4zM1527.1 423h7.4v7.4h-7.4zM1526.9 420.1h7.4v7.4h-7.4zM1527.9 419.7h7.4v7.4h-7.4zM1526.9 418.8h7.4v7.4h-7.4zM1527.7 416.8h7.4v7.4h-7.4zM1527.7 417.1h7.4v7.4h-7.4zM1527.8 415.3h7.4v7.4h-7.4zM1528.2 416.4h7.4v7.4h-7.4zM1528.5 414.1h7.4v7.4h-7.4zM1528.3 413.3h7.4v7.4h-7.4zM1528.5 411.5h7.4v7.4h-7.4zM1528.7 413.1h7.4v7.4h-7.4zM1528.2 411h7.4v7.4h-7.4zM1528.3 410.2h7.4v7.4h-7.4zM1527.6 410.5h7.4v7.4h-7.4zM1528 407.4h7.4v7.4h-7.4zM1527.9 406.6h7.4v7.4h-7.4zM1529.1 405.1h7.4v7.4h-7.4zM1528 406.1h7.4v7.4h-7.4zM1528.3 403.3h7.4v7.4h-7.4zM1529 403.9h7.4v7.4h-7.4zM1528.9 403.4h7.4v7.4h-7.4zM1528.3 402.9h7.4v7.4h-7.4zM1529.4 399.7h7.4v7.4h-7.4zM1528.5 400.1h7.4v7.4h-7.4zM1529.2 398.6h7.4v7.4h-7.4zM1528.7 398h7.4v7.4h-7.4zM1528.9 397.6h7.4v7.4h-7.4zM1530.2 395.5h7.4v7.4h-7.4zM1529.8 396.2h7.4v7.4h-7.4zM1529.3 395.5h7.4v7.4h-7.4zM1530.7 393.4h7.4v7.4h-7.4zM1530 393.7h7.4v7.4h-7.4zM1530.3 391.5h7.4v7.4h-7.4zM1531.1 391.7h7.4v7.4h-7.4zM1530.3 389.3h7.4v7.4h-7.4zM1530.4 388.9h7.4v7.4h-7.4zM1531.6 389h7.4v7.4h-7.4zM1531.6 388.1h7.4v7.4h-7.4zM1531.6 385.1h7.4v7.4h-7.4zM1531.2 386.7h7.4v7.4h-7.4zM1532.1 383.8h7.4v7.4h-7.4zM1531.4 383.9h7.4v7.4h-7.4zM1531.5 382.7h7.4v7.4h-7.4zM1531.2 381.5h7.4v7.4h-7.4zM1532.1 379.4h7.4v7.4h-7.4zM1531.7 381.2h7.4v7.4h-7.4zM1532.9 380.1h7.4v7.4h-7.4zM1532.9 378.9h7.4v7.4h-7.4zM1533.4 378.1h7.4v7.4h-7.4zM1532.3 376.5h7.4v7.4h-7.4zM1532.8 375.7h7.4v7.4h-7.4zM1533 374.4h7.4v7.4h-7.4zM1534.2 373.7h7.4v7.4h-7.4zM1533.3 372.5h7.4v7.4h-7.4zM1533.8 372.8h7.4v7.4h-7.4zM1533.8 370h7.4v7.4h-7.4zM1534.6 368.6h7.4v7.4h-7.4zM1534.7 370h7.4v7.4h-7.4zM1534.8 367.2h7.4v7.4h-7.4zM1535 367h7.4v7.4h-7.4zM1534.7 364.9h7.4v7.4h-7.4zM1534.9 364.5h7.4v7.4h-7.4zM1535.6 363.6h7.4v7.4h-7.4zM1535.5 362.1h7.4v7.4h-7.4zM1536.2 363.3h7.4v7.4h-7.4zM1536.6 361.6h7.4v7.4h-7.4zM1536.8 359.7h7.4v7.4h-7.4zM1537.3 359.4h7.4v7.4h-7.4zM1537.4 358.9h7.4v7.4h-7.4zM1537.6 357.1h7.4v7.4h-7.4zM1537.6 355.9h7.4v7.4h-7.4zM1538.4 355.4h7.4v7.4h-7.4zM1538.8 353.4h7.4v7.4h-7.4zM1538.8 354.9h7.4v7.4h-7.4zM1539 353.1h7.4v7.4h-7.4zM1540.1 351.4h7.4v7.4h-7.4zM1541.6 350.6h7.4v7.4h-7.4zM1541.9 349.3h7.4v7.4h-7.4zM1541.5 350.4h7.4v7.4h-7.4zM1544.8 344.5h7.4v7.4h-7.4zM1545.6 348.4h7.4v7.4h-7.4zM1547.1 344.6h7.4v7.4h-7.4zM1547.2 353.8h7.4v7.4h-7.4zM1548.9 345.1h7.4v7.4h-7.4zM1549.2 347.2h7.4v7.4h-7.4zM1550.6 350.1h7.4v7.4h-7.4zM1551.8 352.3h7.4v7.4h-7.4zM1552.2 351.4h7.4v7.4h-7.4zM1553.5 351.6h7.4v7.4h-7.4zM1553.9 351.9h7.4v7.4h-7.4zM1555.2 353.3h7.4v7.4h-7.4zM1555.2 352.8h7.4v7.4h-7.4zM1555.9 351.7h7.4v7.4h-7.4zM1557.8 348.8h7.4v7.4h-7.4zM1559.3 349.6h7.4v7.4h-7.4zM1559.3 351.9h7.4v7.4h-7.4zM1561 350h7.4v7.4h-7.4zM1561.1 348.3h7.4v7.4h-7.4zM1562.1 351.2h7.4v7.4h-7.4zM1562.8 347.6h7.4v7.4h-7.4z" fill="none" stroke="#e8a317" stroke-width="1.7"/>
<path d="M1031 480.6 L1452.2 429.1 L1456.7 444.3 L1462.8 459.5 L1470.4 473.2 L1478 486.9 L1485.6 500.5 L1491.7 512.7 L1495.5 519.1 L1498.5 514.2 L1503.8 509.7 L1511.4 505.4 L1519 502.8 L1522.1 502.1 L1524.3 485.3 L1526.6 470.2 L1528.9 453.4 L1531.2 436.7 L1533.2 421 L1534.7 402.9 L1536.7 389.1 L1539.4 375.2 L1542.1 364.2 L1544.9 356.6 L1547.7 353.1 L1550.4 352.5 L1567.7 352.5" fill="none" stroke="#000" stroke-width="2.7" stroke-linejoin="round" stroke-linecap="round"/>
<path d="M1009.4 273.3 L1450.8 273.3 L1453.8 263.2 L1456.7 253 L1459.4 242.9 L1462.1 232.7 L1464.6 222.6 L1467.1 212.4 L1469.4 202.3 L1471.7 192.1 L1473.9 182 L1476 171.9 L1478.1 161.7 L1480.1 151.6 L1482 141.4 L1483.9 131.3 L1485.7 121.1 L1487.5 111 L1489.3 100.8 L1490.9 90.7 L1492.6 80.5 L1494.2 70.4 L1521.4 70.4 L1526.4 119 L1530.3 157.7 L1534.2 196.4 L1536.9 223.5 L1538.5 236 L1540 246.7 L1541.8 256 L1543.8 264.1 L1545.7 269 L1547.7 271.9 L1550.4 273.3 L1567 273.3" fill="none" stroke="#000" stroke-width="2.7" stroke-linejoin="round" stroke-linecap="round"/>
<rect x="952.4" y="38.4" width="647.7" height="588.3" fill="none" stroke="#000" stroke-width="3"/>
<path d="M952.4 303.4H1600.1" stroke="#000" stroke-width="3"/>
<path d="M997.5 38.4v5.3M997.5 303.4v-5.3M997.5 626.7v-5.3M1024 38.4v5.3M1024 303.4v-5.3M1024 626.7v-5.3M1042.8 38.4v5.3M1042.8 303.4v-5.3M1042.8 626.7v-5.3M1057.4 38.4v5.3M1057.4 303.4v-5.3M1057.4 626.7v-5.3M1069.4 38.4v5.3M1069.4 303.4v-5.3M1069.4 626.7v-5.3M1079.4 38.4v5.3M1079.4 303.4v-5.3M1079.4 626.7v-5.3M1088.2 38.4v5.3M1088.2 303.4v-5.3M1088.2 626.7v-5.3M1095.9 38.4v5.3M1095.9 303.4v-5.3M1095.9 626.7v-5.3M1102.8 38.4v11.1M1102.8 303.4v-11.1M1102.8 626.7v-11.1M1148.1 38.4v5.3M1148.1 303.4v-5.3M1148.1 626.7v-5.3M1174.7 38.4v5.3M1174.7 303.4v-5.3M1174.7 626.7v-5.3M1193.5 38.4v5.3M1193.5 303.4v-5.3M1193.5 626.7v-5.3M1208.1 38.4v5.3M1208.1 303.4v-5.3M1208.1 626.7v-5.3M1220 38.4v5.3M1220 303.4v-5.3M1220 626.7v-5.3M1230.1 38.4v5.3M1230.1 303.4v-5.3M1230.1 626.7v-5.3M1238.9 38.4v5.3M1238.9 303.4v-5.3M1238.9 626.7v-5.3M1246.6 38.4v5.3M1246.6 303.4v-5.3M1246.6 626.7v-5.3M1253.5 38.4v11.1M1253.5 303.4v-11.1M1253.5 626.7v-11.1M1298.8 38.4v5.3M1298.8 303.4v-5.3M1298.8 626.7v-5.3M1325.4 38.4v5.3M1325.4 303.4v-5.3M1325.4 626.7v-5.3M1344.2 38.4v5.3M1344.2 303.4v-5.3M1344.2 626.7v-5.3M1358.8 38.4v5.3M1358.8 303.4v-5.3M1358.8 626.7v-5.3M1370.7 38.4v5.3M1370.7 303.4v-5.3M1370.7 626.7v-5.3M1380.8 38.4v5.3M1380.8 303.4v-5.3M1380.8 626.7v-5.3M1389.5 38.4v5.3M1389.5 303.4v-5.3M1389.5 626.7v-5.3M1397.2 38.4v5.3M1397.2 303.4v-5.3M1397.2 626.7v-5.3M1404.1 38.4v11.1M1404.1 303.4v-11.1M1404.1 626.7v-11.1M1449.5 38.4v5.3M1449.5 303.4v-5.3M1449.5 626.7v-5.3M1476 38.4v5.3M1476 303.4v-5.3M1476 626.7v-5.3M1494.9 38.4v5.3M1494.9 303.4v-5.3M1494.9 626.7v-5.3M1509.5 38.4v5.3M1509.5 303.4v-5.3M1509.5 626.7v-5.3M1521.4 38.4v5.3M1521.4 303.4v-5.3M1521.4 626.7v-5.3M1531.5 38.4v5.3M1531.5 303.4v-5.3M1531.5 626.7v-5.3M1540.2 38.4v5.3M1540.2 303.4v-5.3M1540.2 626.7v-5.3M1547.9 38.4v5.3M1547.9 303.4v-5.3M1547.9 626.7v-5.3M1554.8 38.4v11.1M1554.8 303.4v-11.1M1554.8 626.7v-11.1M952.4 274h11.1M1600.1 274h-11.1M952.4 244.5h5.3M1600.1 244.5h-5.3M952.4 215.1h11.1M1600.1 215.1h-11.1M952.4 185.6h5.3M1600.1 185.6h-5.3M952.4 156.2h11.1M1600.1 156.2h-11.1M952.4 126.7h5.3M1600.1 126.7h-5.3M952.4 97.3h11.1M1600.1 97.3h-11.1M952.4 67.8h5.3M1600.1 67.8h-5.3M952.4 584.4h5.3M1600.1 584.4h-5.3M952.4 559.7h5.3M1600.1 559.7h-5.3M952.4 542.1h5.3M1600.1 542.1h-5.3M952.4 528.5h5.3M1600.1 528.5h-5.3M952.4 517.4h5.3M1600.1 517.4h-5.3M952.4 508h5.3M1600.1 508h-5.3M952.4 499.8h5.3M1600.1 499.8h-5.3M952.4 492.6h5.3M1600.1 492.6h-5.3M952.4 486.2h11.1M1600.1 486.2h-11.1M952.4 443.9h5.3M1600.1 443.9h-5.3M952.4 419.2h5.3M1600.1 419.2h-5.3M952.4 401.6h5.3M1600.1 401.6h-5.3M952.4 388h5.3M1600.1 388h-5.3M952.4 376.9h5.3M1600.1 376.9h-5.3M952.4 367.5h5.3M1600.1 367.5h-5.3M952.4 359.3h5.3M1600.1 359.3h-5.3M952.4 352.1h5.3M1600.1 352.1h-5.3M952.4 345.7h11.1M1600.1 345.7h-11.1" stroke="#000" stroke-width="2.9" stroke-linecap="round" fill="none"/>
<g font-family="Liberation Sans, Arial, sans-serif" fill="#000" style="font-kerning:none">
<text transform="translate(887.07 283.71) scale(0.9961 1)" font-size="32.3">300</text>
<text transform="translate(887.07 224.82) scale(0.9961 1)" font-size="32.3">320</text>
<text transform="translate(887.07 165.93) scale(0.9961 1)" font-size="32.3">340</text>
<text transform="translate(887.07 107.04) scale(0.9961 1)" font-size="32.3">360</text>
<text transform="translate(887.07 48.15) scale(0.9961 1)" font-size="32.3">380</text>
<text transform="translate(895.62 638.75) scale(0.9628 1)" font-size="32.5">10</text>
<text transform="translate(929.8 622.85) scale(1 1)" font-size="19.6">6</text>
<text transform="translate(895.62 498.25) scale(0.9628 1)" font-size="32.5">10</text>
<text transform="translate(929.8 482.35) scale(1 1)" font-size="19.6">7</text>
<text transform="translate(895.62 357.75) scale(0.9628 1)" font-size="32.5">10</text>
<text transform="translate(929.8 341.85) scale(1 1)" font-size="19.6">8</text>
<text transform="translate(929.73 668.05) scale(0.969 1)" font-size="32.5">10</text>
<text transform="translate(964.97 652.15) scale(1 1)" font-size="19.6">0</text>
<text transform="translate(1080.41 668.05) scale(0.969 1)" font-size="32.5">10</text>
<text transform="translate(1115.65 652.15) scale(1 1)" font-size="19.6">1</text>
<text transform="translate(1231.09 668.05) scale(0.969 1)" font-size="32.5">10</text>
<text transform="translate(1266.33 652.15) scale(1 1)" font-size="19.6">2</text>
<text transform="translate(1381.77 668.05) scale(0.969 1)" font-size="32.5">10</text>
<text transform="translate(1417.01 652.15) scale(1 1)" font-size="19.6">3</text>
<text transform="translate(1532.45 668.05) scale(0.969 1)" font-size="32.5">10</text>
<text transform="translate(1567.69 652.15) scale(1 1)" font-size="19.6">4</text>
<text transform="translate(1217.48 713.1) scale(1.015 1)" font-size="31.8">Time (s)</text>
<text transform="translate(865.7 651.93) rotate(-90) scale(1.0065 1.03)" font-size="31.8">Low-field</text>
<text transform="translate(865.7 515.35) rotate(-90) scale(1.0205 1.03)" font-size="31.8">resistance</text>
<text transform="translate(865.7 358.7) rotate(-90) scale(0.9133 1.03)" font-size="31.8">(</text>
<text transform="translate(866 349.12) rotate(-90) scale(1.05 1.03)" font-size="33.5" font-family="Liberation Serif, Times New Roman, serif">Ω</text>
<text transform="translate(865.7 321.96) rotate(-90) scale(0.8777 1.03)" font-size="31.8">)</text>
<text transform="translate(867 276.43) rotate(-90) scale(1.0166 1.04)" font-size="31.8">Temperature</text>
<text transform="translate(867 85.33) rotate(-90) scale(1.0794 1.04)" font-size="31.8">(K)</text>
<text transform="translate(814.34 33.9) scale(1.0199 1)" font-size="39.5" font-weight="bold">b</text>
</g>
<rect x="978.4" y="321" width="250.9" height="87.1" fill="#fff" stroke="#000" stroke-width="1.7"/>
<rect x="1016.7" y="340.5" width="7.4" height="7.4" fill="none" stroke="#e8a317" stroke-width="1.5"/>
<path d="M984 385.7H1058" stroke="#000" stroke-width="3" stroke-linecap="round"/>
<g font-family="Liberation Sans, Arial, sans-serif" fill="#000" style="font-kerning:none">
<text transform="translate(1066.33 355.9) scale(0.9911 1)" font-size="31.6">Experiment</text>
<text transform="translate(1066.77 396.9) scale(0.9969 1)" font-size="31.6">Simulation</text>
</g>
</g>
</svg></body></html>
